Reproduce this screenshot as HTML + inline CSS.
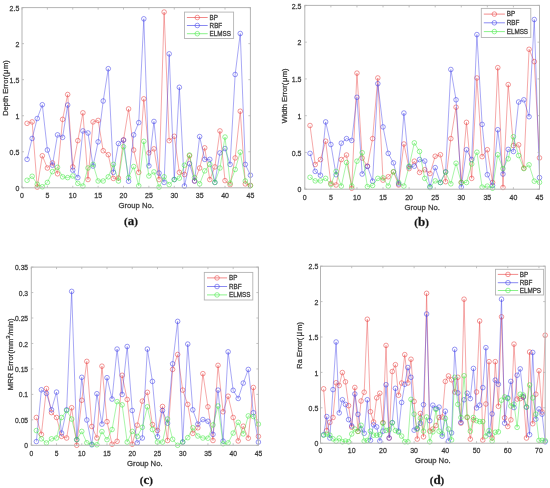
<!DOCTYPE html>
<html><head><meta charset="utf-8"><style>
html,body{margin:0;padding:0;background:#fff;}
body{width:550px;height:488px;overflow:hidden;}
svg text{stroke:#3c3c3c;stroke-width:0.28px;}
svg{display:block;filter:blur(0.35px);font-family:"Liberation Sans",Arial,sans-serif;font-size:7.6px;fill:#3c3c3c;}
</style></head><body>
<svg width="550" height="488" viewBox="0 0 550 488">
<rect width="550" height="488" fill="#fff"/>
<g><polyline points="27.08,123.33 32.15,121.89 37.23,187.12 42.30,155.76 47.38,168.02 52.45,162.97 57.53,173.78 62.60,119.36 67.68,94.50 72.76,166.94 77.83,140.63 82.91,112.80 87.98,179.55 93.06,121.89 98.13,120.44 103.21,150.72 108.28,154.68 113.36,178.40 118.44,178.11 123.51,139.91 128.59,108.91 133.66,150.00 138.74,172.34 143.81,98.82 148.89,152.88 153.96,148.84 159.04,179.55 164.12,12.04 169.19,140.63 174.27,136.30 179.34,172.34 184.42,174.50 189.49,155.76 194.57,180.99 199.64,168.02 204.72,147.84 209.80,179.55 214.87,166.94 219.95,130.90 225.02,180.63 230.10,184.60 235.17,157.93 240.25,111.22 245.32,183.88 250.40,185.32" fill="none" stroke="#e83a3a" stroke-width="0.8" stroke-opacity="0.55" stroke-linejoin="round"/>
<circle cx="27.08" cy="123.33" r="2.3" fill="none" stroke="#e83a3a" stroke-width="0.7" stroke-opacity="0.75"/>
<circle cx="32.15" cy="121.89" r="2.3" fill="none" stroke="#e83a3a" stroke-width="0.7" stroke-opacity="0.75"/>
<circle cx="37.23" cy="187.12" r="2.3" fill="none" stroke="#e83a3a" stroke-width="0.7" stroke-opacity="0.75"/>
<circle cx="42.30" cy="155.76" r="2.3" fill="none" stroke="#e83a3a" stroke-width="0.7" stroke-opacity="0.75"/>
<circle cx="47.38" cy="168.02" r="2.3" fill="none" stroke="#e83a3a" stroke-width="0.7" stroke-opacity="0.75"/>
<circle cx="52.45" cy="162.97" r="2.3" fill="none" stroke="#e83a3a" stroke-width="0.7" stroke-opacity="0.75"/>
<circle cx="57.53" cy="173.78" r="2.3" fill="none" stroke="#e83a3a" stroke-width="0.7" stroke-opacity="0.75"/>
<circle cx="62.60" cy="119.36" r="2.3" fill="none" stroke="#e83a3a" stroke-width="0.7" stroke-opacity="0.75"/>
<circle cx="67.68" cy="94.50" r="2.3" fill="none" stroke="#e83a3a" stroke-width="0.7" stroke-opacity="0.75"/>
<circle cx="72.76" cy="166.94" r="2.3" fill="none" stroke="#e83a3a" stroke-width="0.7" stroke-opacity="0.75"/>
<circle cx="77.83" cy="140.63" r="2.3" fill="none" stroke="#e83a3a" stroke-width="0.7" stroke-opacity="0.75"/>
<circle cx="82.91" cy="112.80" r="2.3" fill="none" stroke="#e83a3a" stroke-width="0.7" stroke-opacity="0.75"/>
<circle cx="87.98" cy="179.55" r="2.3" fill="none" stroke="#e83a3a" stroke-width="0.7" stroke-opacity="0.75"/>
<circle cx="93.06" cy="121.89" r="2.3" fill="none" stroke="#e83a3a" stroke-width="0.7" stroke-opacity="0.75"/>
<circle cx="98.13" cy="120.44" r="2.3" fill="none" stroke="#e83a3a" stroke-width="0.7" stroke-opacity="0.75"/>
<circle cx="103.21" cy="150.72" r="2.3" fill="none" stroke="#e83a3a" stroke-width="0.7" stroke-opacity="0.75"/>
<circle cx="108.28" cy="154.68" r="2.3" fill="none" stroke="#e83a3a" stroke-width="0.7" stroke-opacity="0.75"/>
<circle cx="113.36" cy="178.40" r="2.3" fill="none" stroke="#e83a3a" stroke-width="0.7" stroke-opacity="0.75"/>
<circle cx="118.44" cy="178.11" r="2.3" fill="none" stroke="#e83a3a" stroke-width="0.7" stroke-opacity="0.75"/>
<circle cx="123.51" cy="139.91" r="2.3" fill="none" stroke="#e83a3a" stroke-width="0.7" stroke-opacity="0.75"/>
<circle cx="128.59" cy="108.91" r="2.3" fill="none" stroke="#e83a3a" stroke-width="0.7" stroke-opacity="0.75"/>
<circle cx="133.66" cy="150.00" r="2.3" fill="none" stroke="#e83a3a" stroke-width="0.7" stroke-opacity="0.75"/>
<circle cx="138.74" cy="172.34" r="2.3" fill="none" stroke="#e83a3a" stroke-width="0.7" stroke-opacity="0.75"/>
<circle cx="143.81" cy="98.82" r="2.3" fill="none" stroke="#e83a3a" stroke-width="0.7" stroke-opacity="0.75"/>
<circle cx="148.89" cy="152.88" r="2.3" fill="none" stroke="#e83a3a" stroke-width="0.7" stroke-opacity="0.75"/>
<circle cx="153.96" cy="148.84" r="2.3" fill="none" stroke="#e83a3a" stroke-width="0.7" stroke-opacity="0.75"/>
<circle cx="159.04" cy="179.55" r="2.3" fill="none" stroke="#e83a3a" stroke-width="0.7" stroke-opacity="0.75"/>
<circle cx="164.12" cy="12.04" r="2.3" fill="none" stroke="#e83a3a" stroke-width="0.7" stroke-opacity="0.75"/>
<circle cx="169.19" cy="140.63" r="2.3" fill="none" stroke="#e83a3a" stroke-width="0.7" stroke-opacity="0.75"/>
<circle cx="174.27" cy="136.30" r="2.3" fill="none" stroke="#e83a3a" stroke-width="0.7" stroke-opacity="0.75"/>
<circle cx="179.34" cy="172.34" r="2.3" fill="none" stroke="#e83a3a" stroke-width="0.7" stroke-opacity="0.75"/>
<circle cx="184.42" cy="174.50" r="2.3" fill="none" stroke="#e83a3a" stroke-width="0.7" stroke-opacity="0.75"/>
<circle cx="189.49" cy="155.76" r="2.3" fill="none" stroke="#e83a3a" stroke-width="0.7" stroke-opacity="0.75"/>
<circle cx="194.57" cy="180.99" r="2.3" fill="none" stroke="#e83a3a" stroke-width="0.7" stroke-opacity="0.75"/>
<circle cx="199.64" cy="168.02" r="2.3" fill="none" stroke="#e83a3a" stroke-width="0.7" stroke-opacity="0.75"/>
<circle cx="204.72" cy="147.84" r="2.3" fill="none" stroke="#e83a3a" stroke-width="0.7" stroke-opacity="0.75"/>
<circle cx="209.80" cy="179.55" r="2.3" fill="none" stroke="#e83a3a" stroke-width="0.7" stroke-opacity="0.75"/>
<circle cx="214.87" cy="166.94" r="2.3" fill="none" stroke="#e83a3a" stroke-width="0.7" stroke-opacity="0.75"/>
<circle cx="219.95" cy="130.90" r="2.3" fill="none" stroke="#e83a3a" stroke-width="0.7" stroke-opacity="0.75"/>
<circle cx="225.02" cy="180.63" r="2.3" fill="none" stroke="#e83a3a" stroke-width="0.7" stroke-opacity="0.75"/>
<circle cx="230.10" cy="184.60" r="2.3" fill="none" stroke="#e83a3a" stroke-width="0.7" stroke-opacity="0.75"/>
<circle cx="235.17" cy="157.93" r="2.3" fill="none" stroke="#e83a3a" stroke-width="0.7" stroke-opacity="0.75"/>
<circle cx="240.25" cy="111.22" r="2.3" fill="none" stroke="#e83a3a" stroke-width="0.7" stroke-opacity="0.75"/>
<circle cx="245.32" cy="183.88" r="2.3" fill="none" stroke="#e83a3a" stroke-width="0.7" stroke-opacity="0.75"/>
<circle cx="250.40" cy="185.32" r="2.3" fill="none" stroke="#e83a3a" stroke-width="0.7" stroke-opacity="0.75"/>
<polyline points="27.08,159.37 32.15,138.46 37.23,118.50 42.30,104.73 47.38,150.00 52.45,165.13 57.53,134.86 62.60,137.38 67.68,105.02 72.76,170.18 77.83,177.60 82.91,130.90 87.98,132.99 93.06,166.07 98.13,141.85 103.21,100.98 108.28,68.69 113.36,172.34 118.44,143.51 123.51,140.12 128.59,181.21 133.66,134.86 138.74,122.61 143.81,18.81 148.89,165.86 153.96,121.45 159.04,173.06 164.12,182.43 169.19,53.84 174.27,179.55 179.34,87.29 184.42,186.04 189.49,163.69 194.57,180.99 199.64,136.59 204.72,159.37 209.80,159.37 214.87,182.43 219.95,152.88 225.02,148.56 230.10,164.41 235.17,74.46 240.25,33.52 245.32,164.41 250.40,175.23" fill="none" stroke="#3a3ae8" stroke-width="0.8" stroke-opacity="0.55" stroke-linejoin="round"/>
<circle cx="27.08" cy="159.37" r="2.3" fill="none" stroke="#3a3ae8" stroke-width="0.7" stroke-opacity="0.75"/>
<circle cx="32.15" cy="138.46" r="2.3" fill="none" stroke="#3a3ae8" stroke-width="0.7" stroke-opacity="0.75"/>
<circle cx="37.23" cy="118.50" r="2.3" fill="none" stroke="#3a3ae8" stroke-width="0.7" stroke-opacity="0.75"/>
<circle cx="42.30" cy="104.73" r="2.3" fill="none" stroke="#3a3ae8" stroke-width="0.7" stroke-opacity="0.75"/>
<circle cx="47.38" cy="150.00" r="2.3" fill="none" stroke="#3a3ae8" stroke-width="0.7" stroke-opacity="0.75"/>
<circle cx="52.45" cy="165.13" r="2.3" fill="none" stroke="#3a3ae8" stroke-width="0.7" stroke-opacity="0.75"/>
<circle cx="57.53" cy="134.86" r="2.3" fill="none" stroke="#3a3ae8" stroke-width="0.7" stroke-opacity="0.75"/>
<circle cx="62.60" cy="137.38" r="2.3" fill="none" stroke="#3a3ae8" stroke-width="0.7" stroke-opacity="0.75"/>
<circle cx="67.68" cy="105.02" r="2.3" fill="none" stroke="#3a3ae8" stroke-width="0.7" stroke-opacity="0.75"/>
<circle cx="72.76" cy="170.18" r="2.3" fill="none" stroke="#3a3ae8" stroke-width="0.7" stroke-opacity="0.75"/>
<circle cx="77.83" cy="177.60" r="2.3" fill="none" stroke="#3a3ae8" stroke-width="0.7" stroke-opacity="0.75"/>
<circle cx="82.91" cy="130.90" r="2.3" fill="none" stroke="#3a3ae8" stroke-width="0.7" stroke-opacity="0.75"/>
<circle cx="87.98" cy="132.99" r="2.3" fill="none" stroke="#3a3ae8" stroke-width="0.7" stroke-opacity="0.75"/>
<circle cx="93.06" cy="166.07" r="2.3" fill="none" stroke="#3a3ae8" stroke-width="0.7" stroke-opacity="0.75"/>
<circle cx="98.13" cy="141.85" r="2.3" fill="none" stroke="#3a3ae8" stroke-width="0.7" stroke-opacity="0.75"/>
<circle cx="103.21" cy="100.98" r="2.3" fill="none" stroke="#3a3ae8" stroke-width="0.7" stroke-opacity="0.75"/>
<circle cx="108.28" cy="68.69" r="2.3" fill="none" stroke="#3a3ae8" stroke-width="0.7" stroke-opacity="0.75"/>
<circle cx="113.36" cy="172.34" r="2.3" fill="none" stroke="#3a3ae8" stroke-width="0.7" stroke-opacity="0.75"/>
<circle cx="118.44" cy="143.51" r="2.3" fill="none" stroke="#3a3ae8" stroke-width="0.7" stroke-opacity="0.75"/>
<circle cx="123.51" cy="140.12" r="2.3" fill="none" stroke="#3a3ae8" stroke-width="0.7" stroke-opacity="0.75"/>
<circle cx="128.59" cy="181.21" r="2.3" fill="none" stroke="#3a3ae8" stroke-width="0.7" stroke-opacity="0.75"/>
<circle cx="133.66" cy="134.86" r="2.3" fill="none" stroke="#3a3ae8" stroke-width="0.7" stroke-opacity="0.75"/>
<circle cx="138.74" cy="122.61" r="2.3" fill="none" stroke="#3a3ae8" stroke-width="0.7" stroke-opacity="0.75"/>
<circle cx="143.81" cy="18.81" r="2.3" fill="none" stroke="#3a3ae8" stroke-width="0.7" stroke-opacity="0.75"/>
<circle cx="148.89" cy="165.86" r="2.3" fill="none" stroke="#3a3ae8" stroke-width="0.7" stroke-opacity="0.75"/>
<circle cx="153.96" cy="121.45" r="2.3" fill="none" stroke="#3a3ae8" stroke-width="0.7" stroke-opacity="0.75"/>
<circle cx="159.04" cy="173.06" r="2.3" fill="none" stroke="#3a3ae8" stroke-width="0.7" stroke-opacity="0.75"/>
<circle cx="164.12" cy="182.43" r="2.3" fill="none" stroke="#3a3ae8" stroke-width="0.7" stroke-opacity="0.75"/>
<circle cx="169.19" cy="53.84" r="2.3" fill="none" stroke="#3a3ae8" stroke-width="0.7" stroke-opacity="0.75"/>
<circle cx="174.27" cy="179.55" r="2.3" fill="none" stroke="#3a3ae8" stroke-width="0.7" stroke-opacity="0.75"/>
<circle cx="179.34" cy="87.29" r="2.3" fill="none" stroke="#3a3ae8" stroke-width="0.7" stroke-opacity="0.75"/>
<circle cx="184.42" cy="186.04" r="2.3" fill="none" stroke="#3a3ae8" stroke-width="0.7" stroke-opacity="0.75"/>
<circle cx="189.49" cy="163.69" r="2.3" fill="none" stroke="#3a3ae8" stroke-width="0.7" stroke-opacity="0.75"/>
<circle cx="194.57" cy="180.99" r="2.3" fill="none" stroke="#3a3ae8" stroke-width="0.7" stroke-opacity="0.75"/>
<circle cx="199.64" cy="136.59" r="2.3" fill="none" stroke="#3a3ae8" stroke-width="0.7" stroke-opacity="0.75"/>
<circle cx="204.72" cy="159.37" r="2.3" fill="none" stroke="#3a3ae8" stroke-width="0.7" stroke-opacity="0.75"/>
<circle cx="209.80" cy="159.37" r="2.3" fill="none" stroke="#3a3ae8" stroke-width="0.7" stroke-opacity="0.75"/>
<circle cx="214.87" cy="182.43" r="2.3" fill="none" stroke="#3a3ae8" stroke-width="0.7" stroke-opacity="0.75"/>
<circle cx="219.95" cy="152.88" r="2.3" fill="none" stroke="#3a3ae8" stroke-width="0.7" stroke-opacity="0.75"/>
<circle cx="225.02" cy="148.56" r="2.3" fill="none" stroke="#3a3ae8" stroke-width="0.7" stroke-opacity="0.75"/>
<circle cx="230.10" cy="164.41" r="2.3" fill="none" stroke="#3a3ae8" stroke-width="0.7" stroke-opacity="0.75"/>
<circle cx="235.17" cy="74.46" r="2.3" fill="none" stroke="#3a3ae8" stroke-width="0.7" stroke-opacity="0.75"/>
<circle cx="240.25" cy="33.52" r="2.3" fill="none" stroke="#3a3ae8" stroke-width="0.7" stroke-opacity="0.75"/>
<circle cx="245.32" cy="164.41" r="2.3" fill="none" stroke="#3a3ae8" stroke-width="0.7" stroke-opacity="0.75"/>
<circle cx="250.40" cy="175.23" r="2.3" fill="none" stroke="#3a3ae8" stroke-width="0.7" stroke-opacity="0.75"/>
<polyline points="27.08,180.27 32.15,176.31 37.23,184.24 42.30,186.76 47.38,182.43 52.45,171.62 57.53,167.30 62.60,176.81 67.68,177.60 72.76,175.95 77.83,183.37 82.91,186.04 87.98,168.02 93.06,164.41 98.13,180.99 103.21,180.99 108.28,176.81 113.36,164.41 118.44,180.99 123.51,146.75 128.59,177.60 133.66,166.58 138.74,185.82 143.81,141.35 148.89,175.95 153.96,171.91 159.04,187.12 164.12,176.81 169.19,184.60 174.27,179.55 179.34,178.11 184.42,165.28 189.49,155.04 194.57,177.60 199.64,183.88 204.72,170.90 209.80,164.41 214.87,182.43 219.95,168.02 225.02,137.02 230.10,183.15 235.17,169.46 240.25,152.16 245.32,180.99 250.40,185.68" fill="none" stroke="#3ae83a" stroke-width="0.8" stroke-opacity="0.55" stroke-linejoin="round"/>
<circle cx="27.08" cy="180.27" r="2.3" fill="none" stroke="#3ae83a" stroke-width="0.7" stroke-opacity="0.75"/>
<circle cx="32.15" cy="176.31" r="2.3" fill="none" stroke="#3ae83a" stroke-width="0.7" stroke-opacity="0.75"/>
<circle cx="37.23" cy="184.24" r="2.3" fill="none" stroke="#3ae83a" stroke-width="0.7" stroke-opacity="0.75"/>
<circle cx="42.30" cy="186.76" r="2.3" fill="none" stroke="#3ae83a" stroke-width="0.7" stroke-opacity="0.75"/>
<circle cx="47.38" cy="182.43" r="2.3" fill="none" stroke="#3ae83a" stroke-width="0.7" stroke-opacity="0.75"/>
<circle cx="52.45" cy="171.62" r="2.3" fill="none" stroke="#3ae83a" stroke-width="0.7" stroke-opacity="0.75"/>
<circle cx="57.53" cy="167.30" r="2.3" fill="none" stroke="#3ae83a" stroke-width="0.7" stroke-opacity="0.75"/>
<circle cx="62.60" cy="176.81" r="2.3" fill="none" stroke="#3ae83a" stroke-width="0.7" stroke-opacity="0.75"/>
<circle cx="67.68" cy="177.60" r="2.3" fill="none" stroke="#3ae83a" stroke-width="0.7" stroke-opacity="0.75"/>
<circle cx="72.76" cy="175.95" r="2.3" fill="none" stroke="#3ae83a" stroke-width="0.7" stroke-opacity="0.75"/>
<circle cx="77.83" cy="183.37" r="2.3" fill="none" stroke="#3ae83a" stroke-width="0.7" stroke-opacity="0.75"/>
<circle cx="82.91" cy="186.04" r="2.3" fill="none" stroke="#3ae83a" stroke-width="0.7" stroke-opacity="0.75"/>
<circle cx="87.98" cy="168.02" r="2.3" fill="none" stroke="#3ae83a" stroke-width="0.7" stroke-opacity="0.75"/>
<circle cx="93.06" cy="164.41" r="2.3" fill="none" stroke="#3ae83a" stroke-width="0.7" stroke-opacity="0.75"/>
<circle cx="98.13" cy="180.99" r="2.3" fill="none" stroke="#3ae83a" stroke-width="0.7" stroke-opacity="0.75"/>
<circle cx="103.21" cy="180.99" r="2.3" fill="none" stroke="#3ae83a" stroke-width="0.7" stroke-opacity="0.75"/>
<circle cx="108.28" cy="176.81" r="2.3" fill="none" stroke="#3ae83a" stroke-width="0.7" stroke-opacity="0.75"/>
<circle cx="113.36" cy="164.41" r="2.3" fill="none" stroke="#3ae83a" stroke-width="0.7" stroke-opacity="0.75"/>
<circle cx="118.44" cy="180.99" r="2.3" fill="none" stroke="#3ae83a" stroke-width="0.7" stroke-opacity="0.75"/>
<circle cx="123.51" cy="146.75" r="2.3" fill="none" stroke="#3ae83a" stroke-width="0.7" stroke-opacity="0.75"/>
<circle cx="128.59" cy="177.60" r="2.3" fill="none" stroke="#3ae83a" stroke-width="0.7" stroke-opacity="0.75"/>
<circle cx="133.66" cy="166.58" r="2.3" fill="none" stroke="#3ae83a" stroke-width="0.7" stroke-opacity="0.75"/>
<circle cx="138.74" cy="185.82" r="2.3" fill="none" stroke="#3ae83a" stroke-width="0.7" stroke-opacity="0.75"/>
<circle cx="143.81" cy="141.35" r="2.3" fill="none" stroke="#3ae83a" stroke-width="0.7" stroke-opacity="0.75"/>
<circle cx="148.89" cy="175.95" r="2.3" fill="none" stroke="#3ae83a" stroke-width="0.7" stroke-opacity="0.75"/>
<circle cx="153.96" cy="171.91" r="2.3" fill="none" stroke="#3ae83a" stroke-width="0.7" stroke-opacity="0.75"/>
<circle cx="159.04" cy="187.12" r="2.3" fill="none" stroke="#3ae83a" stroke-width="0.7" stroke-opacity="0.75"/>
<circle cx="164.12" cy="176.81" r="2.3" fill="none" stroke="#3ae83a" stroke-width="0.7" stroke-opacity="0.75"/>
<circle cx="169.19" cy="184.60" r="2.3" fill="none" stroke="#3ae83a" stroke-width="0.7" stroke-opacity="0.75"/>
<circle cx="174.27" cy="179.55" r="2.3" fill="none" stroke="#3ae83a" stroke-width="0.7" stroke-opacity="0.75"/>
<circle cx="179.34" cy="178.11" r="2.3" fill="none" stroke="#3ae83a" stroke-width="0.7" stroke-opacity="0.75"/>
<circle cx="184.42" cy="165.28" r="2.3" fill="none" stroke="#3ae83a" stroke-width="0.7" stroke-opacity="0.75"/>
<circle cx="189.49" cy="155.04" r="2.3" fill="none" stroke="#3ae83a" stroke-width="0.7" stroke-opacity="0.75"/>
<circle cx="194.57" cy="177.60" r="2.3" fill="none" stroke="#3ae83a" stroke-width="0.7" stroke-opacity="0.75"/>
<circle cx="199.64" cy="183.88" r="2.3" fill="none" stroke="#3ae83a" stroke-width="0.7" stroke-opacity="0.75"/>
<circle cx="204.72" cy="170.90" r="2.3" fill="none" stroke="#3ae83a" stroke-width="0.7" stroke-opacity="0.75"/>
<circle cx="209.80" cy="164.41" r="2.3" fill="none" stroke="#3ae83a" stroke-width="0.7" stroke-opacity="0.75"/>
<circle cx="214.87" cy="182.43" r="2.3" fill="none" stroke="#3ae83a" stroke-width="0.7" stroke-opacity="0.75"/>
<circle cx="219.95" cy="168.02" r="2.3" fill="none" stroke="#3ae83a" stroke-width="0.7" stroke-opacity="0.75"/>
<circle cx="225.02" cy="137.02" r="2.3" fill="none" stroke="#3ae83a" stroke-width="0.7" stroke-opacity="0.75"/>
<circle cx="230.10" cy="183.15" r="2.3" fill="none" stroke="#3ae83a" stroke-width="0.7" stroke-opacity="0.75"/>
<circle cx="235.17" cy="169.46" r="2.3" fill="none" stroke="#3ae83a" stroke-width="0.7" stroke-opacity="0.75"/>
<circle cx="240.25" cy="152.16" r="2.3" fill="none" stroke="#3ae83a" stroke-width="0.7" stroke-opacity="0.75"/>
<circle cx="245.32" cy="180.99" r="2.3" fill="none" stroke="#3ae83a" stroke-width="0.7" stroke-opacity="0.75"/>
<circle cx="250.40" cy="185.68" r="2.3" fill="none" stroke="#3ae83a" stroke-width="0.7" stroke-opacity="0.75"/>
<rect x="22.00" y="7.60" width="228.40" height="180.20" fill="none" stroke="#b4b4b4" stroke-width="1"/>
<line x1="22.00" y1="187.8" x2="22.00" y2="185.8" stroke="#b4b4b4" stroke-width="0.8"/>
<line x1="22.00" y1="7.6" x2="22.00" y2="9.6" stroke="#b4b4b4" stroke-width="0.8"/>
<text transform="translate(22.00,197.70) scale(0.92,1)" text-anchor="middle">0</text>
<line x1="47.38" y1="187.8" x2="47.38" y2="185.8" stroke="#b4b4b4" stroke-width="0.8"/>
<line x1="47.38" y1="7.6" x2="47.38" y2="9.6" stroke="#b4b4b4" stroke-width="0.8"/>
<text transform="translate(47.38,197.70) scale(0.92,1)" text-anchor="middle">5</text>
<line x1="72.76" y1="187.8" x2="72.76" y2="185.8" stroke="#b4b4b4" stroke-width="0.8"/>
<line x1="72.76" y1="7.6" x2="72.76" y2="9.6" stroke="#b4b4b4" stroke-width="0.8"/>
<text transform="translate(72.76,197.70) scale(0.92,1)" text-anchor="middle">10</text>
<line x1="98.13" y1="187.8" x2="98.13" y2="185.8" stroke="#b4b4b4" stroke-width="0.8"/>
<line x1="98.13" y1="7.6" x2="98.13" y2="9.6" stroke="#b4b4b4" stroke-width="0.8"/>
<text transform="translate(98.13,197.70) scale(0.92,1)" text-anchor="middle">15</text>
<line x1="123.51" y1="187.8" x2="123.51" y2="185.8" stroke="#b4b4b4" stroke-width="0.8"/>
<line x1="123.51" y1="7.6" x2="123.51" y2="9.6" stroke="#b4b4b4" stroke-width="0.8"/>
<text transform="translate(123.51,197.70) scale(0.92,1)" text-anchor="middle">20</text>
<line x1="148.89" y1="187.8" x2="148.89" y2="185.8" stroke="#b4b4b4" stroke-width="0.8"/>
<line x1="148.89" y1="7.6" x2="148.89" y2="9.6" stroke="#b4b4b4" stroke-width="0.8"/>
<text transform="translate(148.89,197.70) scale(0.92,1)" text-anchor="middle">25</text>
<line x1="174.27" y1="187.8" x2="174.27" y2="185.8" stroke="#b4b4b4" stroke-width="0.8"/>
<line x1="174.27" y1="7.6" x2="174.27" y2="9.6" stroke="#b4b4b4" stroke-width="0.8"/>
<text transform="translate(174.27,197.70) scale(0.92,1)" text-anchor="middle">30</text>
<line x1="199.64" y1="187.8" x2="199.64" y2="185.8" stroke="#b4b4b4" stroke-width="0.8"/>
<line x1="199.64" y1="7.6" x2="199.64" y2="9.6" stroke="#b4b4b4" stroke-width="0.8"/>
<text transform="translate(199.64,197.70) scale(0.92,1)" text-anchor="middle">35</text>
<line x1="225.02" y1="187.8" x2="225.02" y2="185.8" stroke="#b4b4b4" stroke-width="0.8"/>
<line x1="225.02" y1="7.6" x2="225.02" y2="9.6" stroke="#b4b4b4" stroke-width="0.8"/>
<text transform="translate(225.02,197.70) scale(0.92,1)" text-anchor="middle">40</text>
<line x1="250.40" y1="187.8" x2="250.40" y2="185.8" stroke="#b4b4b4" stroke-width="0.8"/>
<line x1="250.40" y1="7.6" x2="250.40" y2="9.6" stroke="#b4b4b4" stroke-width="0.8"/>
<text transform="translate(250.40,197.70) scale(0.92,1)" text-anchor="middle">45</text>
<line x1="22.0" y1="187.80" x2="24.0" y2="187.80" stroke="#b4b4b4" stroke-width="0.8"/>
<line x1="250.4" y1="187.80" x2="248.4" y2="187.80" stroke="#b4b4b4" stroke-width="0.8"/>
<text transform="translate(19.30,190.90) scale(0.92,1)" text-anchor="end">0</text>
<line x1="22.0" y1="151.76" x2="24.0" y2="151.76" stroke="#b4b4b4" stroke-width="0.8"/>
<line x1="250.4" y1="151.76" x2="248.4" y2="151.76" stroke="#b4b4b4" stroke-width="0.8"/>
<text transform="translate(19.30,154.86) scale(0.92,1)" text-anchor="end">0.5</text>
<line x1="22.0" y1="115.72" x2="24.0" y2="115.72" stroke="#b4b4b4" stroke-width="0.8"/>
<line x1="250.4" y1="115.72" x2="248.4" y2="115.72" stroke="#b4b4b4" stroke-width="0.8"/>
<text transform="translate(19.30,118.82) scale(0.92,1)" text-anchor="end">1</text>
<line x1="22.0" y1="79.68" x2="24.0" y2="79.68" stroke="#b4b4b4" stroke-width="0.8"/>
<line x1="250.4" y1="79.68" x2="248.4" y2="79.68" stroke="#b4b4b4" stroke-width="0.8"/>
<text transform="translate(19.30,82.78) scale(0.92,1)" text-anchor="end">1.5</text>
<line x1="22.0" y1="43.64" x2="24.0" y2="43.64" stroke="#b4b4b4" stroke-width="0.8"/>
<line x1="250.4" y1="43.64" x2="248.4" y2="43.64" stroke="#b4b4b4" stroke-width="0.8"/>
<text transform="translate(19.30,46.74) scale(0.92,1)" text-anchor="end">2</text>
<line x1="22.0" y1="7.60" x2="24.0" y2="7.60" stroke="#b4b4b4" stroke-width="0.8"/>
<line x1="250.4" y1="7.60" x2="248.4" y2="7.60" stroke="#b4b4b4" stroke-width="0.8"/>
<text transform="translate(19.30,10.70) scale(0.92,1)" text-anchor="end">2.5</text>
<text x="136.20" y="208.1" text-anchor="middle" font-size="7.7">Group No.</text>
<text transform="translate(7.800000000000001,88.1) rotate(-90)" text-anchor="middle" font-size="7.5">Depth Error(<tspan dx="0.7">μ</tspan><tspan dx="0.5">m)</tspan></text>
<text x="131" y="225" text-anchor="middle" font-family="Liberation Serif, serif" font-weight="bold" font-size="13" fill="#111"><tspan font-size="11">(</tspan>a<tspan font-size="11">)</tspan></text>
<rect x="184.5" y="12.1" width="49.10" height="26.40" fill="#fff" stroke="#b4b4b4" stroke-width="0.9"/>
<line x1="186.9" y1="17.5" x2="207.7" y2="17.5" stroke="#e83a3a" stroke-width="0.8" stroke-opacity="0.75"/>
<circle cx="197.30" cy="17.5" r="2.3" fill="none" stroke="#e83a3a" stroke-width="0.7" stroke-opacity="0.75"/>
<text x="209.6" y="19.8" font-size="6.3">BP</text>
<line x1="186.9" y1="25.5" x2="207.7" y2="25.5" stroke="#3a3ae8" stroke-width="0.8" stroke-opacity="0.75"/>
<circle cx="197.30" cy="25.5" r="2.3" fill="none" stroke="#3a3ae8" stroke-width="0.7" stroke-opacity="0.75"/>
<text x="209.6" y="27.8" font-size="6.3">RBF</text>
<line x1="186.9" y1="33.7" x2="207.7" y2="33.7" stroke="#3ae83a" stroke-width="0.8" stroke-opacity="0.75"/>
<circle cx="197.30" cy="33.7" r="2.3" fill="none" stroke="#3ae83a" stroke-width="0.7" stroke-opacity="0.75"/>
<text x="209.6" y="36.0" font-size="6.3">ELMSS</text></g>
<g><polyline points="310.02,125.52 315.23,164.48 320.45,159.56 325.66,141.18 330.88,183.38 336.09,184.99 341.31,159.56 346.52,155.00 351.74,188.23 356.96,73.10 362.17,158.09 367.39,166.17 372.60,138.60 377.82,77.95 383.03,180.14 388.25,176.76 393.46,171.91 398.68,184.99 403.90,143.97 409.11,168.60 414.33,161.17 419.54,172.42 424.76,169.70 429.97,173.53 435.19,156.25 440.40,154.70 445.62,181.69 450.84,138.60 456.05,107.21 461.27,182.50 466.48,122.36 471.70,178.38 476.91,77.95 482.13,156.62 487.34,149.71 492.56,182.50 497.78,67.66 502.99,187.49 508.21,84.57 513.42,145.59 518.64,144.85 523.85,168.09 529.07,49.28 534.28,61.63 539.50,157.87" fill="none" stroke="#e83a3a" stroke-width="0.8" stroke-opacity="0.55" stroke-linejoin="round"/>
<circle cx="310.02" cy="125.52" r="2.3" fill="none" stroke="#e83a3a" stroke-width="0.7" stroke-opacity="0.75"/>
<circle cx="315.23" cy="164.48" r="2.3" fill="none" stroke="#e83a3a" stroke-width="0.7" stroke-opacity="0.75"/>
<circle cx="320.45" cy="159.56" r="2.3" fill="none" stroke="#e83a3a" stroke-width="0.7" stroke-opacity="0.75"/>
<circle cx="325.66" cy="141.18" r="2.3" fill="none" stroke="#e83a3a" stroke-width="0.7" stroke-opacity="0.75"/>
<circle cx="330.88" cy="183.38" r="2.3" fill="none" stroke="#e83a3a" stroke-width="0.7" stroke-opacity="0.75"/>
<circle cx="336.09" cy="184.99" r="2.3" fill="none" stroke="#e83a3a" stroke-width="0.7" stroke-opacity="0.75"/>
<circle cx="341.31" cy="159.56" r="2.3" fill="none" stroke="#e83a3a" stroke-width="0.7" stroke-opacity="0.75"/>
<circle cx="346.52" cy="155.00" r="2.3" fill="none" stroke="#e83a3a" stroke-width="0.7" stroke-opacity="0.75"/>
<circle cx="351.74" cy="188.23" r="2.3" fill="none" stroke="#e83a3a" stroke-width="0.7" stroke-opacity="0.75"/>
<circle cx="356.96" cy="73.10" r="2.3" fill="none" stroke="#e83a3a" stroke-width="0.7" stroke-opacity="0.75"/>
<circle cx="362.17" cy="158.09" r="2.3" fill="none" stroke="#e83a3a" stroke-width="0.7" stroke-opacity="0.75"/>
<circle cx="367.39" cy="166.17" r="2.3" fill="none" stroke="#e83a3a" stroke-width="0.7" stroke-opacity="0.75"/>
<circle cx="372.60" cy="138.60" r="2.3" fill="none" stroke="#e83a3a" stroke-width="0.7" stroke-opacity="0.75"/>
<circle cx="377.82" cy="77.95" r="2.3" fill="none" stroke="#e83a3a" stroke-width="0.7" stroke-opacity="0.75"/>
<circle cx="383.03" cy="180.14" r="2.3" fill="none" stroke="#e83a3a" stroke-width="0.7" stroke-opacity="0.75"/>
<circle cx="388.25" cy="176.76" r="2.3" fill="none" stroke="#e83a3a" stroke-width="0.7" stroke-opacity="0.75"/>
<circle cx="393.46" cy="171.91" r="2.3" fill="none" stroke="#e83a3a" stroke-width="0.7" stroke-opacity="0.75"/>
<circle cx="398.68" cy="184.99" r="2.3" fill="none" stroke="#e83a3a" stroke-width="0.7" stroke-opacity="0.75"/>
<circle cx="403.90" cy="143.97" r="2.3" fill="none" stroke="#e83a3a" stroke-width="0.7" stroke-opacity="0.75"/>
<circle cx="409.11" cy="168.60" r="2.3" fill="none" stroke="#e83a3a" stroke-width="0.7" stroke-opacity="0.75"/>
<circle cx="414.33" cy="161.17" r="2.3" fill="none" stroke="#e83a3a" stroke-width="0.7" stroke-opacity="0.75"/>
<circle cx="419.54" cy="172.42" r="2.3" fill="none" stroke="#e83a3a" stroke-width="0.7" stroke-opacity="0.75"/>
<circle cx="424.76" cy="169.70" r="2.3" fill="none" stroke="#e83a3a" stroke-width="0.7" stroke-opacity="0.75"/>
<circle cx="429.97" cy="173.53" r="2.3" fill="none" stroke="#e83a3a" stroke-width="0.7" stroke-opacity="0.75"/>
<circle cx="435.19" cy="156.25" r="2.3" fill="none" stroke="#e83a3a" stroke-width="0.7" stroke-opacity="0.75"/>
<circle cx="440.40" cy="154.70" r="2.3" fill="none" stroke="#e83a3a" stroke-width="0.7" stroke-opacity="0.75"/>
<circle cx="445.62" cy="181.69" r="2.3" fill="none" stroke="#e83a3a" stroke-width="0.7" stroke-opacity="0.75"/>
<circle cx="450.84" cy="138.60" r="2.3" fill="none" stroke="#e83a3a" stroke-width="0.7" stroke-opacity="0.75"/>
<circle cx="456.05" cy="107.21" r="2.3" fill="none" stroke="#e83a3a" stroke-width="0.7" stroke-opacity="0.75"/>
<circle cx="461.27" cy="182.50" r="2.3" fill="none" stroke="#e83a3a" stroke-width="0.7" stroke-opacity="0.75"/>
<circle cx="466.48" cy="122.36" r="2.3" fill="none" stroke="#e83a3a" stroke-width="0.7" stroke-opacity="0.75"/>
<circle cx="471.70" cy="178.38" r="2.3" fill="none" stroke="#e83a3a" stroke-width="0.7" stroke-opacity="0.75"/>
<circle cx="476.91" cy="77.95" r="2.3" fill="none" stroke="#e83a3a" stroke-width="0.7" stroke-opacity="0.75"/>
<circle cx="482.13" cy="156.62" r="2.3" fill="none" stroke="#e83a3a" stroke-width="0.7" stroke-opacity="0.75"/>
<circle cx="487.34" cy="149.71" r="2.3" fill="none" stroke="#e83a3a" stroke-width="0.7" stroke-opacity="0.75"/>
<circle cx="492.56" cy="182.50" r="2.3" fill="none" stroke="#e83a3a" stroke-width="0.7" stroke-opacity="0.75"/>
<circle cx="497.78" cy="67.66" r="2.3" fill="none" stroke="#e83a3a" stroke-width="0.7" stroke-opacity="0.75"/>
<circle cx="502.99" cy="187.49" r="2.3" fill="none" stroke="#e83a3a" stroke-width="0.7" stroke-opacity="0.75"/>
<circle cx="508.21" cy="84.57" r="2.3" fill="none" stroke="#e83a3a" stroke-width="0.7" stroke-opacity="0.75"/>
<circle cx="513.42" cy="145.59" r="2.3" fill="none" stroke="#e83a3a" stroke-width="0.7" stroke-opacity="0.75"/>
<circle cx="518.64" cy="144.85" r="2.3" fill="none" stroke="#e83a3a" stroke-width="0.7" stroke-opacity="0.75"/>
<circle cx="523.85" cy="168.09" r="2.3" fill="none" stroke="#e83a3a" stroke-width="0.7" stroke-opacity="0.75"/>
<circle cx="529.07" cy="49.28" r="2.3" fill="none" stroke="#e83a3a" stroke-width="0.7" stroke-opacity="0.75"/>
<circle cx="534.28" cy="61.63" r="2.3" fill="none" stroke="#e83a3a" stroke-width="0.7" stroke-opacity="0.75"/>
<circle cx="539.50" cy="157.87" r="2.3" fill="none" stroke="#e83a3a" stroke-width="0.7" stroke-opacity="0.75"/>
<polyline points="310.02,153.38 315.23,171.39 320.45,175.22 325.66,121.91 330.88,144.49 336.09,174.70 341.31,143.16 346.52,138.60 351.74,140.44 356.96,97.29 362.17,174.04 367.39,166.47 372.60,181.17 377.82,83.68 383.03,126.91 388.25,153.38 393.46,162.87 398.68,183.82 403.90,113.02 409.11,166.91 414.33,166.17 419.54,159.56 424.76,161.03 429.97,186.61 435.19,167.64 440.40,182.50 445.62,171.91 450.84,69.49 456.05,99.79 461.27,187.13 466.48,149.71 471.70,159.56 476.91,34.57 482.13,124.41 487.34,174.70 492.56,185.51 497.78,129.71 502.99,174.04 508.21,149.41 513.42,151.47 518.64,101.99 523.85,99.79 529.07,116.69 534.28,19.50 539.50,177.57" fill="none" stroke="#3a3ae8" stroke-width="0.8" stroke-opacity="0.55" stroke-linejoin="round"/>
<circle cx="310.02" cy="153.38" r="2.3" fill="none" stroke="#3a3ae8" stroke-width="0.7" stroke-opacity="0.75"/>
<circle cx="315.23" cy="171.39" r="2.3" fill="none" stroke="#3a3ae8" stroke-width="0.7" stroke-opacity="0.75"/>
<circle cx="320.45" cy="175.22" r="2.3" fill="none" stroke="#3a3ae8" stroke-width="0.7" stroke-opacity="0.75"/>
<circle cx="325.66" cy="121.91" r="2.3" fill="none" stroke="#3a3ae8" stroke-width="0.7" stroke-opacity="0.75"/>
<circle cx="330.88" cy="144.49" r="2.3" fill="none" stroke="#3a3ae8" stroke-width="0.7" stroke-opacity="0.75"/>
<circle cx="336.09" cy="174.70" r="2.3" fill="none" stroke="#3a3ae8" stroke-width="0.7" stroke-opacity="0.75"/>
<circle cx="341.31" cy="143.16" r="2.3" fill="none" stroke="#3a3ae8" stroke-width="0.7" stroke-opacity="0.75"/>
<circle cx="346.52" cy="138.60" r="2.3" fill="none" stroke="#3a3ae8" stroke-width="0.7" stroke-opacity="0.75"/>
<circle cx="351.74" cy="140.44" r="2.3" fill="none" stroke="#3a3ae8" stroke-width="0.7" stroke-opacity="0.75"/>
<circle cx="356.96" cy="97.29" r="2.3" fill="none" stroke="#3a3ae8" stroke-width="0.7" stroke-opacity="0.75"/>
<circle cx="362.17" cy="174.04" r="2.3" fill="none" stroke="#3a3ae8" stroke-width="0.7" stroke-opacity="0.75"/>
<circle cx="367.39" cy="166.47" r="2.3" fill="none" stroke="#3a3ae8" stroke-width="0.7" stroke-opacity="0.75"/>
<circle cx="372.60" cy="181.17" r="2.3" fill="none" stroke="#3a3ae8" stroke-width="0.7" stroke-opacity="0.75"/>
<circle cx="377.82" cy="83.68" r="2.3" fill="none" stroke="#3a3ae8" stroke-width="0.7" stroke-opacity="0.75"/>
<circle cx="383.03" cy="126.91" r="2.3" fill="none" stroke="#3a3ae8" stroke-width="0.7" stroke-opacity="0.75"/>
<circle cx="388.25" cy="153.38" r="2.3" fill="none" stroke="#3a3ae8" stroke-width="0.7" stroke-opacity="0.75"/>
<circle cx="393.46" cy="162.87" r="2.3" fill="none" stroke="#3a3ae8" stroke-width="0.7" stroke-opacity="0.75"/>
<circle cx="398.68" cy="183.82" r="2.3" fill="none" stroke="#3a3ae8" stroke-width="0.7" stroke-opacity="0.75"/>
<circle cx="403.90" cy="113.02" r="2.3" fill="none" stroke="#3a3ae8" stroke-width="0.7" stroke-opacity="0.75"/>
<circle cx="409.11" cy="166.91" r="2.3" fill="none" stroke="#3a3ae8" stroke-width="0.7" stroke-opacity="0.75"/>
<circle cx="414.33" cy="166.17" r="2.3" fill="none" stroke="#3a3ae8" stroke-width="0.7" stroke-opacity="0.75"/>
<circle cx="419.54" cy="159.56" r="2.3" fill="none" stroke="#3a3ae8" stroke-width="0.7" stroke-opacity="0.75"/>
<circle cx="424.76" cy="161.03" r="2.3" fill="none" stroke="#3a3ae8" stroke-width="0.7" stroke-opacity="0.75"/>
<circle cx="429.97" cy="186.61" r="2.3" fill="none" stroke="#3a3ae8" stroke-width="0.7" stroke-opacity="0.75"/>
<circle cx="435.19" cy="167.64" r="2.3" fill="none" stroke="#3a3ae8" stroke-width="0.7" stroke-opacity="0.75"/>
<circle cx="440.40" cy="182.50" r="2.3" fill="none" stroke="#3a3ae8" stroke-width="0.7" stroke-opacity="0.75"/>
<circle cx="445.62" cy="171.91" r="2.3" fill="none" stroke="#3a3ae8" stroke-width="0.7" stroke-opacity="0.75"/>
<circle cx="450.84" cy="69.49" r="2.3" fill="none" stroke="#3a3ae8" stroke-width="0.7" stroke-opacity="0.75"/>
<circle cx="456.05" cy="99.79" r="2.3" fill="none" stroke="#3a3ae8" stroke-width="0.7" stroke-opacity="0.75"/>
<circle cx="461.27" cy="187.13" r="2.3" fill="none" stroke="#3a3ae8" stroke-width="0.7" stroke-opacity="0.75"/>
<circle cx="466.48" cy="149.71" r="2.3" fill="none" stroke="#3a3ae8" stroke-width="0.7" stroke-opacity="0.75"/>
<circle cx="471.70" cy="159.56" r="2.3" fill="none" stroke="#3a3ae8" stroke-width="0.7" stroke-opacity="0.75"/>
<circle cx="476.91" cy="34.57" r="2.3" fill="none" stroke="#3a3ae8" stroke-width="0.7" stroke-opacity="0.75"/>
<circle cx="482.13" cy="124.41" r="2.3" fill="none" stroke="#3a3ae8" stroke-width="0.7" stroke-opacity="0.75"/>
<circle cx="487.34" cy="174.70" r="2.3" fill="none" stroke="#3a3ae8" stroke-width="0.7" stroke-opacity="0.75"/>
<circle cx="492.56" cy="185.51" r="2.3" fill="none" stroke="#3a3ae8" stroke-width="0.7" stroke-opacity="0.75"/>
<circle cx="497.78" cy="129.71" r="2.3" fill="none" stroke="#3a3ae8" stroke-width="0.7" stroke-opacity="0.75"/>
<circle cx="502.99" cy="174.04" r="2.3" fill="none" stroke="#3a3ae8" stroke-width="0.7" stroke-opacity="0.75"/>
<circle cx="508.21" cy="149.41" r="2.3" fill="none" stroke="#3a3ae8" stroke-width="0.7" stroke-opacity="0.75"/>
<circle cx="513.42" cy="151.47" r="2.3" fill="none" stroke="#3a3ae8" stroke-width="0.7" stroke-opacity="0.75"/>
<circle cx="518.64" cy="101.99" r="2.3" fill="none" stroke="#3a3ae8" stroke-width="0.7" stroke-opacity="0.75"/>
<circle cx="523.85" cy="99.79" r="2.3" fill="none" stroke="#3a3ae8" stroke-width="0.7" stroke-opacity="0.75"/>
<circle cx="529.07" cy="116.69" r="2.3" fill="none" stroke="#3a3ae8" stroke-width="0.7" stroke-opacity="0.75"/>
<circle cx="534.28" cy="19.50" r="2.3" fill="none" stroke="#3a3ae8" stroke-width="0.7" stroke-opacity="0.75"/>
<circle cx="539.50" cy="177.57" r="2.3" fill="none" stroke="#3a3ae8" stroke-width="0.7" stroke-opacity="0.75"/>
<polyline points="310.02,177.28 315.23,180.88 320.45,180.88 325.66,178.38 330.88,184.48 336.09,171.39 341.31,186.10 346.52,162.50 351.74,186.02 356.96,161.17 362.17,152.72 367.39,186.61 372.60,185.51 377.82,178.38 383.03,177.94 388.25,186.02 393.46,171.69 398.68,182.50 403.90,186.10 409.11,166.17 414.33,142.87 419.54,151.47 424.76,178.38 429.97,187.49 435.19,180.88 440.40,182.50 445.62,172.06 450.84,183.82 456.05,163.23 461.27,182.50 466.48,182.50 471.70,163.97 476.91,152.20 482.13,187.13 487.34,186.10 492.56,188.23 497.78,154.70 502.99,168.60 508.21,158.82 513.42,136.77 518.64,155.51 523.85,168.60 529.07,164.78 534.28,181.17 539.50,182.35" fill="none" stroke="#3ae83a" stroke-width="0.8" stroke-opacity="0.55" stroke-linejoin="round"/>
<circle cx="310.02" cy="177.28" r="2.3" fill="none" stroke="#3ae83a" stroke-width="0.7" stroke-opacity="0.75"/>
<circle cx="315.23" cy="180.88" r="2.3" fill="none" stroke="#3ae83a" stroke-width="0.7" stroke-opacity="0.75"/>
<circle cx="320.45" cy="180.88" r="2.3" fill="none" stroke="#3ae83a" stroke-width="0.7" stroke-opacity="0.75"/>
<circle cx="325.66" cy="178.38" r="2.3" fill="none" stroke="#3ae83a" stroke-width="0.7" stroke-opacity="0.75"/>
<circle cx="330.88" cy="184.48" r="2.3" fill="none" stroke="#3ae83a" stroke-width="0.7" stroke-opacity="0.75"/>
<circle cx="336.09" cy="171.39" r="2.3" fill="none" stroke="#3ae83a" stroke-width="0.7" stroke-opacity="0.75"/>
<circle cx="341.31" cy="186.10" r="2.3" fill="none" stroke="#3ae83a" stroke-width="0.7" stroke-opacity="0.75"/>
<circle cx="346.52" cy="162.50" r="2.3" fill="none" stroke="#3ae83a" stroke-width="0.7" stroke-opacity="0.75"/>
<circle cx="351.74" cy="186.02" r="2.3" fill="none" stroke="#3ae83a" stroke-width="0.7" stroke-opacity="0.75"/>
<circle cx="356.96" cy="161.17" r="2.3" fill="none" stroke="#3ae83a" stroke-width="0.7" stroke-opacity="0.75"/>
<circle cx="362.17" cy="152.72" r="2.3" fill="none" stroke="#3ae83a" stroke-width="0.7" stroke-opacity="0.75"/>
<circle cx="367.39" cy="186.61" r="2.3" fill="none" stroke="#3ae83a" stroke-width="0.7" stroke-opacity="0.75"/>
<circle cx="372.60" cy="185.51" r="2.3" fill="none" stroke="#3ae83a" stroke-width="0.7" stroke-opacity="0.75"/>
<circle cx="377.82" cy="178.38" r="2.3" fill="none" stroke="#3ae83a" stroke-width="0.7" stroke-opacity="0.75"/>
<circle cx="383.03" cy="177.94" r="2.3" fill="none" stroke="#3ae83a" stroke-width="0.7" stroke-opacity="0.75"/>
<circle cx="388.25" cy="186.02" r="2.3" fill="none" stroke="#3ae83a" stroke-width="0.7" stroke-opacity="0.75"/>
<circle cx="393.46" cy="171.69" r="2.3" fill="none" stroke="#3ae83a" stroke-width="0.7" stroke-opacity="0.75"/>
<circle cx="398.68" cy="182.50" r="2.3" fill="none" stroke="#3ae83a" stroke-width="0.7" stroke-opacity="0.75"/>
<circle cx="403.90" cy="186.10" r="2.3" fill="none" stroke="#3ae83a" stroke-width="0.7" stroke-opacity="0.75"/>
<circle cx="409.11" cy="166.17" r="2.3" fill="none" stroke="#3ae83a" stroke-width="0.7" stroke-opacity="0.75"/>
<circle cx="414.33" cy="142.87" r="2.3" fill="none" stroke="#3ae83a" stroke-width="0.7" stroke-opacity="0.75"/>
<circle cx="419.54" cy="151.47" r="2.3" fill="none" stroke="#3ae83a" stroke-width="0.7" stroke-opacity="0.75"/>
<circle cx="424.76" cy="178.38" r="2.3" fill="none" stroke="#3ae83a" stroke-width="0.7" stroke-opacity="0.75"/>
<circle cx="429.97" cy="187.49" r="2.3" fill="none" stroke="#3ae83a" stroke-width="0.7" stroke-opacity="0.75"/>
<circle cx="435.19" cy="180.88" r="2.3" fill="none" stroke="#3ae83a" stroke-width="0.7" stroke-opacity="0.75"/>
<circle cx="440.40" cy="182.50" r="2.3" fill="none" stroke="#3ae83a" stroke-width="0.7" stroke-opacity="0.75"/>
<circle cx="445.62" cy="172.06" r="2.3" fill="none" stroke="#3ae83a" stroke-width="0.7" stroke-opacity="0.75"/>
<circle cx="450.84" cy="183.82" r="2.3" fill="none" stroke="#3ae83a" stroke-width="0.7" stroke-opacity="0.75"/>
<circle cx="456.05" cy="163.23" r="2.3" fill="none" stroke="#3ae83a" stroke-width="0.7" stroke-opacity="0.75"/>
<circle cx="461.27" cy="182.50" r="2.3" fill="none" stroke="#3ae83a" stroke-width="0.7" stroke-opacity="0.75"/>
<circle cx="466.48" cy="182.50" r="2.3" fill="none" stroke="#3ae83a" stroke-width="0.7" stroke-opacity="0.75"/>
<circle cx="471.70" cy="163.97" r="2.3" fill="none" stroke="#3ae83a" stroke-width="0.7" stroke-opacity="0.75"/>
<circle cx="476.91" cy="152.20" r="2.3" fill="none" stroke="#3ae83a" stroke-width="0.7" stroke-opacity="0.75"/>
<circle cx="482.13" cy="187.13" r="2.3" fill="none" stroke="#3ae83a" stroke-width="0.7" stroke-opacity="0.75"/>
<circle cx="487.34" cy="186.10" r="2.3" fill="none" stroke="#3ae83a" stroke-width="0.7" stroke-opacity="0.75"/>
<circle cx="492.56" cy="188.23" r="2.3" fill="none" stroke="#3ae83a" stroke-width="0.7" stroke-opacity="0.75"/>
<circle cx="497.78" cy="154.70" r="2.3" fill="none" stroke="#3ae83a" stroke-width="0.7" stroke-opacity="0.75"/>
<circle cx="502.99" cy="168.60" r="2.3" fill="none" stroke="#3ae83a" stroke-width="0.7" stroke-opacity="0.75"/>
<circle cx="508.21" cy="158.82" r="2.3" fill="none" stroke="#3ae83a" stroke-width="0.7" stroke-opacity="0.75"/>
<circle cx="513.42" cy="136.77" r="2.3" fill="none" stroke="#3ae83a" stroke-width="0.7" stroke-opacity="0.75"/>
<circle cx="518.64" cy="155.51" r="2.3" fill="none" stroke="#3ae83a" stroke-width="0.7" stroke-opacity="0.75"/>
<circle cx="523.85" cy="168.60" r="2.3" fill="none" stroke="#3ae83a" stroke-width="0.7" stroke-opacity="0.75"/>
<circle cx="529.07" cy="164.78" r="2.3" fill="none" stroke="#3ae83a" stroke-width="0.7" stroke-opacity="0.75"/>
<circle cx="534.28" cy="181.17" r="2.3" fill="none" stroke="#3ae83a" stroke-width="0.7" stroke-opacity="0.75"/>
<circle cx="539.50" cy="182.35" r="2.3" fill="none" stroke="#3ae83a" stroke-width="0.7" stroke-opacity="0.75"/>
<rect x="304.80" y="5.40" width="234.70" height="183.80" fill="none" stroke="#b4b4b4" stroke-width="1"/>
<line x1="304.80" y1="189.2" x2="304.80" y2="187.2" stroke="#b4b4b4" stroke-width="0.8"/>
<line x1="304.80" y1="5.4" x2="304.80" y2="7.4" stroke="#b4b4b4" stroke-width="0.8"/>
<text transform="translate(304.80,200.10) scale(0.92,1)" text-anchor="middle">0</text>
<line x1="330.88" y1="189.2" x2="330.88" y2="187.2" stroke="#b4b4b4" stroke-width="0.8"/>
<line x1="330.88" y1="5.4" x2="330.88" y2="7.4" stroke="#b4b4b4" stroke-width="0.8"/>
<text transform="translate(330.88,200.10) scale(0.92,1)" text-anchor="middle">5</text>
<line x1="356.96" y1="189.2" x2="356.96" y2="187.2" stroke="#b4b4b4" stroke-width="0.8"/>
<line x1="356.96" y1="5.4" x2="356.96" y2="7.4" stroke="#b4b4b4" stroke-width="0.8"/>
<text transform="translate(356.96,200.10) scale(0.92,1)" text-anchor="middle">10</text>
<line x1="383.03" y1="189.2" x2="383.03" y2="187.2" stroke="#b4b4b4" stroke-width="0.8"/>
<line x1="383.03" y1="5.4" x2="383.03" y2="7.4" stroke="#b4b4b4" stroke-width="0.8"/>
<text transform="translate(383.03,200.10) scale(0.92,1)" text-anchor="middle">15</text>
<line x1="409.11" y1="189.2" x2="409.11" y2="187.2" stroke="#b4b4b4" stroke-width="0.8"/>
<line x1="409.11" y1="5.4" x2="409.11" y2="7.4" stroke="#b4b4b4" stroke-width="0.8"/>
<text transform="translate(409.11,200.10) scale(0.92,1)" text-anchor="middle">20</text>
<line x1="435.19" y1="189.2" x2="435.19" y2="187.2" stroke="#b4b4b4" stroke-width="0.8"/>
<line x1="435.19" y1="5.4" x2="435.19" y2="7.4" stroke="#b4b4b4" stroke-width="0.8"/>
<text transform="translate(435.19,200.10) scale(0.92,1)" text-anchor="middle">25</text>
<line x1="461.27" y1="189.2" x2="461.27" y2="187.2" stroke="#b4b4b4" stroke-width="0.8"/>
<line x1="461.27" y1="5.4" x2="461.27" y2="7.4" stroke="#b4b4b4" stroke-width="0.8"/>
<text transform="translate(461.27,200.10) scale(0.92,1)" text-anchor="middle">30</text>
<line x1="487.34" y1="189.2" x2="487.34" y2="187.2" stroke="#b4b4b4" stroke-width="0.8"/>
<line x1="487.34" y1="5.4" x2="487.34" y2="7.4" stroke="#b4b4b4" stroke-width="0.8"/>
<text transform="translate(487.34,200.10) scale(0.92,1)" text-anchor="middle">35</text>
<line x1="513.42" y1="189.2" x2="513.42" y2="187.2" stroke="#b4b4b4" stroke-width="0.8"/>
<line x1="513.42" y1="5.4" x2="513.42" y2="7.4" stroke="#b4b4b4" stroke-width="0.8"/>
<text transform="translate(513.42,200.10) scale(0.92,1)" text-anchor="middle">40</text>
<line x1="539.50" y1="189.2" x2="539.50" y2="187.2" stroke="#b4b4b4" stroke-width="0.8"/>
<line x1="539.50" y1="5.4" x2="539.50" y2="7.4" stroke="#b4b4b4" stroke-width="0.8"/>
<text transform="translate(539.50,200.10) scale(0.92,1)" text-anchor="middle">45</text>
<line x1="304.8" y1="189.20" x2="306.8" y2="189.20" stroke="#b4b4b4" stroke-width="0.8"/>
<line x1="539.5" y1="189.20" x2="537.5" y2="189.20" stroke="#b4b4b4" stroke-width="0.8"/>
<text transform="translate(301.50,192.30) scale(0.92,1)" text-anchor="end">0</text>
<line x1="304.8" y1="152.44" x2="306.8" y2="152.44" stroke="#b4b4b4" stroke-width="0.8"/>
<line x1="539.5" y1="152.44" x2="537.5" y2="152.44" stroke="#b4b4b4" stroke-width="0.8"/>
<text transform="translate(301.50,155.54) scale(0.92,1)" text-anchor="end">0.5</text>
<line x1="304.8" y1="115.68" x2="306.8" y2="115.68" stroke="#b4b4b4" stroke-width="0.8"/>
<line x1="539.5" y1="115.68" x2="537.5" y2="115.68" stroke="#b4b4b4" stroke-width="0.8"/>
<text transform="translate(301.50,118.78) scale(0.92,1)" text-anchor="end">1</text>
<line x1="304.8" y1="78.92" x2="306.8" y2="78.92" stroke="#b4b4b4" stroke-width="0.8"/>
<line x1="539.5" y1="78.92" x2="537.5" y2="78.92" stroke="#b4b4b4" stroke-width="0.8"/>
<text transform="translate(301.50,82.02) scale(0.92,1)" text-anchor="end">1.5</text>
<line x1="304.8" y1="42.16" x2="306.8" y2="42.16" stroke="#b4b4b4" stroke-width="0.8"/>
<line x1="539.5" y1="42.16" x2="537.5" y2="42.16" stroke="#b4b4b4" stroke-width="0.8"/>
<text transform="translate(301.50,45.26) scale(0.92,1)" text-anchor="end">2</text>
<line x1="304.8" y1="5.40" x2="306.8" y2="5.40" stroke="#b4b4b4" stroke-width="0.8"/>
<line x1="539.5" y1="5.40" x2="537.5" y2="5.40" stroke="#b4b4b4" stroke-width="0.8"/>
<text transform="translate(301.50,8.50) scale(0.92,1)" text-anchor="end">2.5</text>
<text x="422.15" y="210.3" text-anchor="middle" font-size="7.7">Group No.</text>
<text transform="translate(286.6,95.8) rotate(-90)" text-anchor="middle" font-size="7.5">Width Error(<tspan dx="0.7">μ</tspan><tspan dx="0.5">m)</tspan></text>
<text x="421.6" y="225.5" text-anchor="middle" font-family="Liberation Serif, serif" font-weight="bold" font-size="13" fill="#111"><tspan font-size="11">(</tspan>b<tspan font-size="11">)</tspan></text>
<rect x="481.3" y="8.4" width="49.50" height="29.10" fill="#fff" stroke="#b4b4b4" stroke-width="0.9"/>
<line x1="483.8" y1="14.1" x2="504.9" y2="14.1" stroke="#e83a3a" stroke-width="0.8" stroke-opacity="0.75"/>
<circle cx="494.35" cy="14.1" r="2.3" fill="none" stroke="#e83a3a" stroke-width="0.7" stroke-opacity="0.75"/>
<text x="506.7" y="16.4" font-size="6.3">BP</text>
<line x1="483.8" y1="22.8" x2="504.9" y2="22.8" stroke="#3a3ae8" stroke-width="0.8" stroke-opacity="0.75"/>
<circle cx="494.35" cy="22.8" r="2.3" fill="none" stroke="#3a3ae8" stroke-width="0.7" stroke-opacity="0.75"/>
<text x="506.7" y="25.1" font-size="6.3">RBF</text>
<line x1="483.8" y1="31.6" x2="504.9" y2="31.6" stroke="#3ae83a" stroke-width="0.8" stroke-opacity="0.75"/>
<circle cx="494.35" cy="31.6" r="2.3" fill="none" stroke="#3ae83a" stroke-width="0.7" stroke-opacity="0.75"/>
<text x="506.7" y="33.9" font-size="6.3">ELMSS</text></g>
<g><polyline points="36.35,417.49 41.39,434.40 46.44,388.52 51.49,412.60 56.53,417.49 61.58,436.38 66.63,438.01 71.67,407.72 76.72,445.29 81.77,400.28 86.81,361.38 91.86,426.45 96.91,438.01 101.95,366.17 107.00,421.62 112.05,444.27 117.09,441.32 122.14,375.28 127.19,399.47 132.23,444.27 137.28,425.18 142.33,401.10 147.37,392.34 152.42,424.52 157.47,430.53 162.51,406.49 167.56,440.50 172.61,369.43 177.65,354.51 182.70,390.10 187.75,404.41 192.79,433.38 197.84,427.78 202.89,373.65 207.93,406.80 212.98,440.50 218.03,365.36 223.07,411.79 228.12,396.21 233.17,417.49 238.21,440.96 243.26,426.20 248.31,438.21 253.35,387.50 258.40,436.38" fill="none" stroke="#e83a3a" stroke-width="0.8" stroke-opacity="0.55" stroke-linejoin="round"/>
<circle cx="36.35" cy="417.49" r="2.3" fill="none" stroke="#e83a3a" stroke-width="0.7" stroke-opacity="0.75"/>
<circle cx="41.39" cy="434.40" r="2.3" fill="none" stroke="#e83a3a" stroke-width="0.7" stroke-opacity="0.75"/>
<circle cx="46.44" cy="388.52" r="2.3" fill="none" stroke="#e83a3a" stroke-width="0.7" stroke-opacity="0.75"/>
<circle cx="51.49" cy="412.60" r="2.3" fill="none" stroke="#e83a3a" stroke-width="0.7" stroke-opacity="0.75"/>
<circle cx="56.53" cy="417.49" r="2.3" fill="none" stroke="#e83a3a" stroke-width="0.7" stroke-opacity="0.75"/>
<circle cx="61.58" cy="436.38" r="2.3" fill="none" stroke="#e83a3a" stroke-width="0.7" stroke-opacity="0.75"/>
<circle cx="66.63" cy="438.01" r="2.3" fill="none" stroke="#e83a3a" stroke-width="0.7" stroke-opacity="0.75"/>
<circle cx="71.67" cy="407.72" r="2.3" fill="none" stroke="#e83a3a" stroke-width="0.7" stroke-opacity="0.75"/>
<circle cx="76.72" cy="445.29" r="2.3" fill="none" stroke="#e83a3a" stroke-width="0.7" stroke-opacity="0.75"/>
<circle cx="81.77" cy="400.28" r="2.3" fill="none" stroke="#e83a3a" stroke-width="0.7" stroke-opacity="0.75"/>
<circle cx="86.81" cy="361.38" r="2.3" fill="none" stroke="#e83a3a" stroke-width="0.7" stroke-opacity="0.75"/>
<circle cx="91.86" cy="426.45" r="2.3" fill="none" stroke="#e83a3a" stroke-width="0.7" stroke-opacity="0.75"/>
<circle cx="96.91" cy="438.01" r="2.3" fill="none" stroke="#e83a3a" stroke-width="0.7" stroke-opacity="0.75"/>
<circle cx="101.95" cy="366.17" r="2.3" fill="none" stroke="#e83a3a" stroke-width="0.7" stroke-opacity="0.75"/>
<circle cx="107.00" cy="421.62" r="2.3" fill="none" stroke="#e83a3a" stroke-width="0.7" stroke-opacity="0.75"/>
<circle cx="112.05" cy="444.27" r="2.3" fill="none" stroke="#e83a3a" stroke-width="0.7" stroke-opacity="0.75"/>
<circle cx="117.09" cy="441.32" r="2.3" fill="none" stroke="#e83a3a" stroke-width="0.7" stroke-opacity="0.75"/>
<circle cx="122.14" cy="375.28" r="2.3" fill="none" stroke="#e83a3a" stroke-width="0.7" stroke-opacity="0.75"/>
<circle cx="127.19" cy="399.47" r="2.3" fill="none" stroke="#e83a3a" stroke-width="0.7" stroke-opacity="0.75"/>
<circle cx="132.23" cy="444.27" r="2.3" fill="none" stroke="#e83a3a" stroke-width="0.7" stroke-opacity="0.75"/>
<circle cx="137.28" cy="425.18" r="2.3" fill="none" stroke="#e83a3a" stroke-width="0.7" stroke-opacity="0.75"/>
<circle cx="142.33" cy="401.10" r="2.3" fill="none" stroke="#e83a3a" stroke-width="0.7" stroke-opacity="0.75"/>
<circle cx="147.37" cy="392.34" r="2.3" fill="none" stroke="#e83a3a" stroke-width="0.7" stroke-opacity="0.75"/>
<circle cx="152.42" cy="424.52" r="2.3" fill="none" stroke="#e83a3a" stroke-width="0.7" stroke-opacity="0.75"/>
<circle cx="157.47" cy="430.53" r="2.3" fill="none" stroke="#e83a3a" stroke-width="0.7" stroke-opacity="0.75"/>
<circle cx="162.51" cy="406.49" r="2.3" fill="none" stroke="#e83a3a" stroke-width="0.7" stroke-opacity="0.75"/>
<circle cx="167.56" cy="440.50" r="2.3" fill="none" stroke="#e83a3a" stroke-width="0.7" stroke-opacity="0.75"/>
<circle cx="172.61" cy="369.43" r="2.3" fill="none" stroke="#e83a3a" stroke-width="0.7" stroke-opacity="0.75"/>
<circle cx="177.65" cy="354.51" r="2.3" fill="none" stroke="#e83a3a" stroke-width="0.7" stroke-opacity="0.75"/>
<circle cx="182.70" cy="390.10" r="2.3" fill="none" stroke="#e83a3a" stroke-width="0.7" stroke-opacity="0.75"/>
<circle cx="187.75" cy="404.41" r="2.3" fill="none" stroke="#e83a3a" stroke-width="0.7" stroke-opacity="0.75"/>
<circle cx="192.79" cy="433.38" r="2.3" fill="none" stroke="#e83a3a" stroke-width="0.7" stroke-opacity="0.75"/>
<circle cx="197.84" cy="427.78" r="2.3" fill="none" stroke="#e83a3a" stroke-width="0.7" stroke-opacity="0.75"/>
<circle cx="202.89" cy="373.65" r="2.3" fill="none" stroke="#e83a3a" stroke-width="0.7" stroke-opacity="0.75"/>
<circle cx="207.93" cy="406.80" r="2.3" fill="none" stroke="#e83a3a" stroke-width="0.7" stroke-opacity="0.75"/>
<circle cx="212.98" cy="440.50" r="2.3" fill="none" stroke="#e83a3a" stroke-width="0.7" stroke-opacity="0.75"/>
<circle cx="218.03" cy="365.36" r="2.3" fill="none" stroke="#e83a3a" stroke-width="0.7" stroke-opacity="0.75"/>
<circle cx="223.07" cy="411.79" r="2.3" fill="none" stroke="#e83a3a" stroke-width="0.7" stroke-opacity="0.75"/>
<circle cx="228.12" cy="396.21" r="2.3" fill="none" stroke="#e83a3a" stroke-width="0.7" stroke-opacity="0.75"/>
<circle cx="233.17" cy="417.49" r="2.3" fill="none" stroke="#e83a3a" stroke-width="0.7" stroke-opacity="0.75"/>
<circle cx="238.21" cy="440.96" r="2.3" fill="none" stroke="#e83a3a" stroke-width="0.7" stroke-opacity="0.75"/>
<circle cx="243.26" cy="426.20" r="2.3" fill="none" stroke="#e83a3a" stroke-width="0.7" stroke-opacity="0.75"/>
<circle cx="248.31" cy="438.21" r="2.3" fill="none" stroke="#e83a3a" stroke-width="0.7" stroke-opacity="0.75"/>
<circle cx="253.35" cy="387.50" r="2.3" fill="none" stroke="#e83a3a" stroke-width="0.7" stroke-opacity="0.75"/>
<circle cx="258.40" cy="436.38" r="2.3" fill="none" stroke="#e83a3a" stroke-width="0.7" stroke-opacity="0.75"/>
<polyline points="36.35,441.57 41.39,389.79 46.44,393.36 51.49,409.80 56.53,392.09 61.58,433.07 66.63,409.80 71.67,291.38 76.72,439.69 81.77,377.32 86.81,419.99 91.86,444.78 96.91,393.71 101.95,424.11 107.00,377.68 112.05,399.06 117.09,349.06 122.14,394.48 127.19,346.52 132.23,410.52 137.28,442.90 142.33,438.01 147.37,349.06 152.42,381.39 157.47,436.79 162.51,410.52 167.56,423.19 172.61,363.83 177.65,321.37 182.70,442.08 187.75,344.07 192.79,409.80 197.84,424.11 202.89,419.58 207.93,421.26 212.98,434.40 218.03,390.10 223.07,441.12 228.12,351.81 233.17,390.30 238.21,398.45 243.26,383.07 248.31,369.43 253.35,412.71 258.40,442.08" fill="none" stroke="#3a3ae8" stroke-width="0.8" stroke-opacity="0.55" stroke-linejoin="round"/>
<circle cx="36.35" cy="441.57" r="2.3" fill="none" stroke="#3a3ae8" stroke-width="0.7" stroke-opacity="0.75"/>
<circle cx="41.39" cy="389.79" r="2.3" fill="none" stroke="#3a3ae8" stroke-width="0.7" stroke-opacity="0.75"/>
<circle cx="46.44" cy="393.36" r="2.3" fill="none" stroke="#3a3ae8" stroke-width="0.7" stroke-opacity="0.75"/>
<circle cx="51.49" cy="409.80" r="2.3" fill="none" stroke="#3a3ae8" stroke-width="0.7" stroke-opacity="0.75"/>
<circle cx="56.53" cy="392.09" r="2.3" fill="none" stroke="#3a3ae8" stroke-width="0.7" stroke-opacity="0.75"/>
<circle cx="61.58" cy="433.07" r="2.3" fill="none" stroke="#3a3ae8" stroke-width="0.7" stroke-opacity="0.75"/>
<circle cx="66.63" cy="409.80" r="2.3" fill="none" stroke="#3a3ae8" stroke-width="0.7" stroke-opacity="0.75"/>
<circle cx="71.67" cy="291.38" r="2.3" fill="none" stroke="#3a3ae8" stroke-width="0.7" stroke-opacity="0.75"/>
<circle cx="76.72" cy="439.69" r="2.3" fill="none" stroke="#3a3ae8" stroke-width="0.7" stroke-opacity="0.75"/>
<circle cx="81.77" cy="377.32" r="2.3" fill="none" stroke="#3a3ae8" stroke-width="0.7" stroke-opacity="0.75"/>
<circle cx="86.81" cy="419.99" r="2.3" fill="none" stroke="#3a3ae8" stroke-width="0.7" stroke-opacity="0.75"/>
<circle cx="91.86" cy="444.78" r="2.3" fill="none" stroke="#3a3ae8" stroke-width="0.7" stroke-opacity="0.75"/>
<circle cx="96.91" cy="393.71" r="2.3" fill="none" stroke="#3a3ae8" stroke-width="0.7" stroke-opacity="0.75"/>
<circle cx="101.95" cy="424.11" r="2.3" fill="none" stroke="#3a3ae8" stroke-width="0.7" stroke-opacity="0.75"/>
<circle cx="107.00" cy="377.68" r="2.3" fill="none" stroke="#3a3ae8" stroke-width="0.7" stroke-opacity="0.75"/>
<circle cx="112.05" cy="399.06" r="2.3" fill="none" stroke="#3a3ae8" stroke-width="0.7" stroke-opacity="0.75"/>
<circle cx="117.09" cy="349.06" r="2.3" fill="none" stroke="#3a3ae8" stroke-width="0.7" stroke-opacity="0.75"/>
<circle cx="122.14" cy="394.48" r="2.3" fill="none" stroke="#3a3ae8" stroke-width="0.7" stroke-opacity="0.75"/>
<circle cx="127.19" cy="346.52" r="2.3" fill="none" stroke="#3a3ae8" stroke-width="0.7" stroke-opacity="0.75"/>
<circle cx="132.23" cy="410.52" r="2.3" fill="none" stroke="#3a3ae8" stroke-width="0.7" stroke-opacity="0.75"/>
<circle cx="137.28" cy="442.90" r="2.3" fill="none" stroke="#3a3ae8" stroke-width="0.7" stroke-opacity="0.75"/>
<circle cx="142.33" cy="438.01" r="2.3" fill="none" stroke="#3a3ae8" stroke-width="0.7" stroke-opacity="0.75"/>
<circle cx="147.37" cy="349.06" r="2.3" fill="none" stroke="#3a3ae8" stroke-width="0.7" stroke-opacity="0.75"/>
<circle cx="152.42" cy="381.39" r="2.3" fill="none" stroke="#3a3ae8" stroke-width="0.7" stroke-opacity="0.75"/>
<circle cx="157.47" cy="436.79" r="2.3" fill="none" stroke="#3a3ae8" stroke-width="0.7" stroke-opacity="0.75"/>
<circle cx="162.51" cy="410.52" r="2.3" fill="none" stroke="#3a3ae8" stroke-width="0.7" stroke-opacity="0.75"/>
<circle cx="167.56" cy="423.19" r="2.3" fill="none" stroke="#3a3ae8" stroke-width="0.7" stroke-opacity="0.75"/>
<circle cx="172.61" cy="363.83" r="2.3" fill="none" stroke="#3a3ae8" stroke-width="0.7" stroke-opacity="0.75"/>
<circle cx="177.65" cy="321.37" r="2.3" fill="none" stroke="#3a3ae8" stroke-width="0.7" stroke-opacity="0.75"/>
<circle cx="182.70" cy="442.08" r="2.3" fill="none" stroke="#3a3ae8" stroke-width="0.7" stroke-opacity="0.75"/>
<circle cx="187.75" cy="344.07" r="2.3" fill="none" stroke="#3a3ae8" stroke-width="0.7" stroke-opacity="0.75"/>
<circle cx="192.79" cy="409.80" r="2.3" fill="none" stroke="#3a3ae8" stroke-width="0.7" stroke-opacity="0.75"/>
<circle cx="197.84" cy="424.11" r="2.3" fill="none" stroke="#3a3ae8" stroke-width="0.7" stroke-opacity="0.75"/>
<circle cx="202.89" cy="419.58" r="2.3" fill="none" stroke="#3a3ae8" stroke-width="0.7" stroke-opacity="0.75"/>
<circle cx="207.93" cy="421.26" r="2.3" fill="none" stroke="#3a3ae8" stroke-width="0.7" stroke-opacity="0.75"/>
<circle cx="212.98" cy="434.40" r="2.3" fill="none" stroke="#3a3ae8" stroke-width="0.7" stroke-opacity="0.75"/>
<circle cx="218.03" cy="390.10" r="2.3" fill="none" stroke="#3a3ae8" stroke-width="0.7" stroke-opacity="0.75"/>
<circle cx="223.07" cy="441.12" r="2.3" fill="none" stroke="#3a3ae8" stroke-width="0.7" stroke-opacity="0.75"/>
<circle cx="228.12" cy="351.81" r="2.3" fill="none" stroke="#3a3ae8" stroke-width="0.7" stroke-opacity="0.75"/>
<circle cx="233.17" cy="390.30" r="2.3" fill="none" stroke="#3a3ae8" stroke-width="0.7" stroke-opacity="0.75"/>
<circle cx="238.21" cy="398.45" r="2.3" fill="none" stroke="#3a3ae8" stroke-width="0.7" stroke-opacity="0.75"/>
<circle cx="243.26" cy="383.07" r="2.3" fill="none" stroke="#3a3ae8" stroke-width="0.7" stroke-opacity="0.75"/>
<circle cx="248.31" cy="369.43" r="2.3" fill="none" stroke="#3a3ae8" stroke-width="0.7" stroke-opacity="0.75"/>
<circle cx="253.35" cy="412.71" r="2.3" fill="none" stroke="#3a3ae8" stroke-width="0.7" stroke-opacity="0.75"/>
<circle cx="258.40" cy="442.08" r="2.3" fill="none" stroke="#3a3ae8" stroke-width="0.7" stroke-opacity="0.75"/>
<polyline points="36.35,430.58 41.39,438.82 46.44,442.90 51.49,438.82 56.53,438.01 61.58,417.49 66.63,410.52 71.67,419.07 76.72,439.69 81.77,431.39 86.81,442.75 91.86,444.27 96.91,444.78 101.95,431.54 107.00,439.69 112.05,429.51 117.09,401.61 122.14,404.86 127.19,442.08 132.23,431.39 137.28,436.38 142.33,427.32 147.37,406.80 152.42,429.51 157.47,442.08 162.51,442.08 167.56,419.07 172.61,439.28 177.65,445.29 182.70,442.08 187.75,437.65 192.79,427.78 197.84,435.97 202.89,438.01 207.93,438.21 212.98,424.93 218.03,405.99 223.07,443.76 228.12,442.90 233.17,433.07 238.21,422.38 243.26,433.89 248.31,415.91 253.35,416.52 258.40,424.11" fill="none" stroke="#3ae83a" stroke-width="0.8" stroke-opacity="0.55" stroke-linejoin="round"/>
<circle cx="36.35" cy="430.58" r="2.3" fill="none" stroke="#3ae83a" stroke-width="0.7" stroke-opacity="0.75"/>
<circle cx="41.39" cy="438.82" r="2.3" fill="none" stroke="#3ae83a" stroke-width="0.7" stroke-opacity="0.75"/>
<circle cx="46.44" cy="442.90" r="2.3" fill="none" stroke="#3ae83a" stroke-width="0.7" stroke-opacity="0.75"/>
<circle cx="51.49" cy="438.82" r="2.3" fill="none" stroke="#3ae83a" stroke-width="0.7" stroke-opacity="0.75"/>
<circle cx="56.53" cy="438.01" r="2.3" fill="none" stroke="#3ae83a" stroke-width="0.7" stroke-opacity="0.75"/>
<circle cx="61.58" cy="417.49" r="2.3" fill="none" stroke="#3ae83a" stroke-width="0.7" stroke-opacity="0.75"/>
<circle cx="66.63" cy="410.52" r="2.3" fill="none" stroke="#3ae83a" stroke-width="0.7" stroke-opacity="0.75"/>
<circle cx="71.67" cy="419.07" r="2.3" fill="none" stroke="#3ae83a" stroke-width="0.7" stroke-opacity="0.75"/>
<circle cx="76.72" cy="439.69" r="2.3" fill="none" stroke="#3ae83a" stroke-width="0.7" stroke-opacity="0.75"/>
<circle cx="81.77" cy="431.39" r="2.3" fill="none" stroke="#3ae83a" stroke-width="0.7" stroke-opacity="0.75"/>
<circle cx="86.81" cy="442.75" r="2.3" fill="none" stroke="#3ae83a" stroke-width="0.7" stroke-opacity="0.75"/>
<circle cx="91.86" cy="444.27" r="2.3" fill="none" stroke="#3ae83a" stroke-width="0.7" stroke-opacity="0.75"/>
<circle cx="96.91" cy="444.78" r="2.3" fill="none" stroke="#3ae83a" stroke-width="0.7" stroke-opacity="0.75"/>
<circle cx="101.95" cy="431.54" r="2.3" fill="none" stroke="#3ae83a" stroke-width="0.7" stroke-opacity="0.75"/>
<circle cx="107.00" cy="439.69" r="2.3" fill="none" stroke="#3ae83a" stroke-width="0.7" stroke-opacity="0.75"/>
<circle cx="112.05" cy="429.51" r="2.3" fill="none" stroke="#3ae83a" stroke-width="0.7" stroke-opacity="0.75"/>
<circle cx="117.09" cy="401.61" r="2.3" fill="none" stroke="#3ae83a" stroke-width="0.7" stroke-opacity="0.75"/>
<circle cx="122.14" cy="404.86" r="2.3" fill="none" stroke="#3ae83a" stroke-width="0.7" stroke-opacity="0.75"/>
<circle cx="127.19" cy="442.08" r="2.3" fill="none" stroke="#3ae83a" stroke-width="0.7" stroke-opacity="0.75"/>
<circle cx="132.23" cy="431.39" r="2.3" fill="none" stroke="#3ae83a" stroke-width="0.7" stroke-opacity="0.75"/>
<circle cx="137.28" cy="436.38" r="2.3" fill="none" stroke="#3ae83a" stroke-width="0.7" stroke-opacity="0.75"/>
<circle cx="142.33" cy="427.32" r="2.3" fill="none" stroke="#3ae83a" stroke-width="0.7" stroke-opacity="0.75"/>
<circle cx="147.37" cy="406.80" r="2.3" fill="none" stroke="#3ae83a" stroke-width="0.7" stroke-opacity="0.75"/>
<circle cx="152.42" cy="429.51" r="2.3" fill="none" stroke="#3ae83a" stroke-width="0.7" stroke-opacity="0.75"/>
<circle cx="157.47" cy="442.08" r="2.3" fill="none" stroke="#3ae83a" stroke-width="0.7" stroke-opacity="0.75"/>
<circle cx="162.51" cy="442.08" r="2.3" fill="none" stroke="#3ae83a" stroke-width="0.7" stroke-opacity="0.75"/>
<circle cx="167.56" cy="419.07" r="2.3" fill="none" stroke="#3ae83a" stroke-width="0.7" stroke-opacity="0.75"/>
<circle cx="172.61" cy="439.28" r="2.3" fill="none" stroke="#3ae83a" stroke-width="0.7" stroke-opacity="0.75"/>
<circle cx="177.65" cy="445.29" r="2.3" fill="none" stroke="#3ae83a" stroke-width="0.7" stroke-opacity="0.75"/>
<circle cx="182.70" cy="442.08" r="2.3" fill="none" stroke="#3ae83a" stroke-width="0.7" stroke-opacity="0.75"/>
<circle cx="187.75" cy="437.65" r="2.3" fill="none" stroke="#3ae83a" stroke-width="0.7" stroke-opacity="0.75"/>
<circle cx="192.79" cy="427.78" r="2.3" fill="none" stroke="#3ae83a" stroke-width="0.7" stroke-opacity="0.75"/>
<circle cx="197.84" cy="435.97" r="2.3" fill="none" stroke="#3ae83a" stroke-width="0.7" stroke-opacity="0.75"/>
<circle cx="202.89" cy="438.01" r="2.3" fill="none" stroke="#3ae83a" stroke-width="0.7" stroke-opacity="0.75"/>
<circle cx="207.93" cy="438.21" r="2.3" fill="none" stroke="#3ae83a" stroke-width="0.7" stroke-opacity="0.75"/>
<circle cx="212.98" cy="424.93" r="2.3" fill="none" stroke="#3ae83a" stroke-width="0.7" stroke-opacity="0.75"/>
<circle cx="218.03" cy="405.99" r="2.3" fill="none" stroke="#3ae83a" stroke-width="0.7" stroke-opacity="0.75"/>
<circle cx="223.07" cy="443.76" r="2.3" fill="none" stroke="#3ae83a" stroke-width="0.7" stroke-opacity="0.75"/>
<circle cx="228.12" cy="442.90" r="2.3" fill="none" stroke="#3ae83a" stroke-width="0.7" stroke-opacity="0.75"/>
<circle cx="233.17" cy="433.07" r="2.3" fill="none" stroke="#3ae83a" stroke-width="0.7" stroke-opacity="0.75"/>
<circle cx="238.21" cy="422.38" r="2.3" fill="none" stroke="#3ae83a" stroke-width="0.7" stroke-opacity="0.75"/>
<circle cx="243.26" cy="433.89" r="2.3" fill="none" stroke="#3ae83a" stroke-width="0.7" stroke-opacity="0.75"/>
<circle cx="248.31" cy="415.91" r="2.3" fill="none" stroke="#3ae83a" stroke-width="0.7" stroke-opacity="0.75"/>
<circle cx="253.35" cy="416.52" r="2.3" fill="none" stroke="#3ae83a" stroke-width="0.7" stroke-opacity="0.75"/>
<circle cx="258.40" cy="424.11" r="2.3" fill="none" stroke="#3ae83a" stroke-width="0.7" stroke-opacity="0.75"/>
<rect x="31.30" y="267.10" width="227.10" height="178.20" fill="none" stroke="#b4b4b4" stroke-width="1"/>
<line x1="31.30" y1="445.3" x2="31.30" y2="443.3" stroke="#b4b4b4" stroke-width="0.8"/>
<line x1="31.30" y1="267.1" x2="31.30" y2="269.1" stroke="#b4b4b4" stroke-width="0.8"/>
<text transform="translate(31.30,455.50) scale(0.885,1)" text-anchor="middle">0</text>
<line x1="56.53" y1="445.3" x2="56.53" y2="443.3" stroke="#b4b4b4" stroke-width="0.8"/>
<line x1="56.53" y1="267.1" x2="56.53" y2="269.1" stroke="#b4b4b4" stroke-width="0.8"/>
<text transform="translate(56.53,455.50) scale(0.885,1)" text-anchor="middle">5</text>
<line x1="81.77" y1="445.3" x2="81.77" y2="443.3" stroke="#b4b4b4" stroke-width="0.8"/>
<line x1="81.77" y1="267.1" x2="81.77" y2="269.1" stroke="#b4b4b4" stroke-width="0.8"/>
<text transform="translate(81.77,455.50) scale(0.885,1)" text-anchor="middle">10</text>
<line x1="107.00" y1="445.3" x2="107.00" y2="443.3" stroke="#b4b4b4" stroke-width="0.8"/>
<line x1="107.00" y1="267.1" x2="107.00" y2="269.1" stroke="#b4b4b4" stroke-width="0.8"/>
<text transform="translate(107.00,455.50) scale(0.885,1)" text-anchor="middle">15</text>
<line x1="132.23" y1="445.3" x2="132.23" y2="443.3" stroke="#b4b4b4" stroke-width="0.8"/>
<line x1="132.23" y1="267.1" x2="132.23" y2="269.1" stroke="#b4b4b4" stroke-width="0.8"/>
<text transform="translate(132.23,455.50) scale(0.885,1)" text-anchor="middle">20</text>
<line x1="157.47" y1="445.3" x2="157.47" y2="443.3" stroke="#b4b4b4" stroke-width="0.8"/>
<line x1="157.47" y1="267.1" x2="157.47" y2="269.1" stroke="#b4b4b4" stroke-width="0.8"/>
<text transform="translate(157.47,455.50) scale(0.885,1)" text-anchor="middle">25</text>
<line x1="182.70" y1="445.3" x2="182.70" y2="443.3" stroke="#b4b4b4" stroke-width="0.8"/>
<line x1="182.70" y1="267.1" x2="182.70" y2="269.1" stroke="#b4b4b4" stroke-width="0.8"/>
<text transform="translate(182.70,455.50) scale(0.885,1)" text-anchor="middle">30</text>
<line x1="207.93" y1="445.3" x2="207.93" y2="443.3" stroke="#b4b4b4" stroke-width="0.8"/>
<line x1="207.93" y1="267.1" x2="207.93" y2="269.1" stroke="#b4b4b4" stroke-width="0.8"/>
<text transform="translate(207.93,455.50) scale(0.885,1)" text-anchor="middle">35</text>
<line x1="233.17" y1="445.3" x2="233.17" y2="443.3" stroke="#b4b4b4" stroke-width="0.8"/>
<line x1="233.17" y1="267.1" x2="233.17" y2="269.1" stroke="#b4b4b4" stroke-width="0.8"/>
<text transform="translate(233.17,455.50) scale(0.885,1)" text-anchor="middle">40</text>
<line x1="258.40" y1="445.3" x2="258.40" y2="443.3" stroke="#b4b4b4" stroke-width="0.8"/>
<line x1="258.40" y1="267.1" x2="258.40" y2="269.1" stroke="#b4b4b4" stroke-width="0.8"/>
<text transform="translate(258.40,455.50) scale(0.885,1)" text-anchor="middle">45</text>
<line x1="31.3" y1="445.30" x2="33.3" y2="445.30" stroke="#b4b4b4" stroke-width="0.8"/>
<line x1="258.4" y1="445.30" x2="256.4" y2="445.30" stroke="#b4b4b4" stroke-width="0.8"/>
<text transform="translate(28.10,448.40) scale(0.885,1)" text-anchor="end">0</text>
<line x1="31.3" y1="419.84" x2="33.3" y2="419.84" stroke="#b4b4b4" stroke-width="0.8"/>
<line x1="258.4" y1="419.84" x2="256.4" y2="419.84" stroke="#b4b4b4" stroke-width="0.8"/>
<text transform="translate(28.10,422.94) scale(0.885,1)" text-anchor="end">0.05</text>
<line x1="31.3" y1="394.39" x2="33.3" y2="394.39" stroke="#b4b4b4" stroke-width="0.8"/>
<line x1="258.4" y1="394.39" x2="256.4" y2="394.39" stroke="#b4b4b4" stroke-width="0.8"/>
<text transform="translate(28.10,397.49) scale(0.885,1)" text-anchor="end">0.1</text>
<line x1="31.3" y1="368.93" x2="33.3" y2="368.93" stroke="#b4b4b4" stroke-width="0.8"/>
<line x1="258.4" y1="368.93" x2="256.4" y2="368.93" stroke="#b4b4b4" stroke-width="0.8"/>
<text transform="translate(28.10,372.03) scale(0.885,1)" text-anchor="end">0.15</text>
<line x1="31.3" y1="343.47" x2="33.3" y2="343.47" stroke="#b4b4b4" stroke-width="0.8"/>
<line x1="258.4" y1="343.47" x2="256.4" y2="343.47" stroke="#b4b4b4" stroke-width="0.8"/>
<text transform="translate(28.10,346.57) scale(0.885,1)" text-anchor="end">0.2</text>
<line x1="31.3" y1="318.01" x2="33.3" y2="318.01" stroke="#b4b4b4" stroke-width="0.8"/>
<line x1="258.4" y1="318.01" x2="256.4" y2="318.01" stroke="#b4b4b4" stroke-width="0.8"/>
<text transform="translate(28.10,321.11) scale(0.885,1)" text-anchor="end">0.25</text>
<line x1="31.3" y1="292.56" x2="33.3" y2="292.56" stroke="#b4b4b4" stroke-width="0.8"/>
<line x1="258.4" y1="292.56" x2="256.4" y2="292.56" stroke="#b4b4b4" stroke-width="0.8"/>
<text transform="translate(28.10,295.66) scale(0.885,1)" text-anchor="end">0.3</text>
<line x1="31.3" y1="267.10" x2="33.3" y2="267.10" stroke="#b4b4b4" stroke-width="0.8"/>
<line x1="258.4" y1="267.10" x2="256.4" y2="267.10" stroke="#b4b4b4" stroke-width="0.8"/>
<text transform="translate(28.10,270.20) scale(0.885,1)" text-anchor="end">0.35</text>
<text x="144.85" y="465.8" text-anchor="middle" font-size="7.7">Group No.</text>
<text transform="translate(12.9,354.3) rotate(-90)" text-anchor="middle" font-size="7.6">MRR Error(mm<tspan dy="-3.2" font-size="6">3</tspan><tspan dy="3.2">/min)</tspan></text>
<text x="146.3" y="483.6" text-anchor="middle" font-family="Liberation Serif, serif" font-weight="bold" font-size="13" fill="#111"><tspan font-size="11">(</tspan>c<tspan font-size="11">)</tspan></text>
<rect x="204.3" y="272.4" width="48.50" height="27.60" fill="#fff" stroke="#b4b4b4" stroke-width="0.9"/>
<line x1="207" y1="277.9" x2="227.1" y2="277.9" stroke="#e83a3a" stroke-width="0.8" stroke-opacity="0.75"/>
<circle cx="217.05" cy="277.9" r="2.3" fill="none" stroke="#e83a3a" stroke-width="0.7" stroke-opacity="0.75"/>
<text x="229" y="280.2" font-size="6.3">BP</text>
<line x1="207" y1="286.5" x2="227.1" y2="286.5" stroke="#3a3ae8" stroke-width="0.8" stroke-opacity="0.75"/>
<circle cx="217.05" cy="286.5" r="2.3" fill="none" stroke="#3a3ae8" stroke-width="0.7" stroke-opacity="0.75"/>
<text x="229" y="288.8" font-size="6.3">RBF</text>
<line x1="207" y1="294.9" x2="227.1" y2="294.9" stroke="#3ae83a" stroke-width="0.8" stroke-opacity="0.75"/>
<circle cx="217.05" cy="294.9" r="2.3" fill="none" stroke="#3ae83a" stroke-width="0.7" stroke-opacity="0.75"/>
<text x="229" y="297.2" font-size="6.3">ELMSS</text></g>
<g><polyline points="323.62,388.83 326.74,430.60 329.86,422.38 332.98,417.50 336.10,382.74 339.23,385.50 342.35,372.54 345.47,381.82 348.59,405.68 351.71,427.13 354.83,387.48 357.95,431.38 361.07,401.00 364.19,392.22 367.31,319.23 370.43,411.69 373.55,421.96 376.68,397.82 379.80,393.22 382.92,422.67 386.04,345.43 389.16,438.03 392.28,371.48 395.40,364.68 398.52,395.27 401.64,383.02 404.76,354.63 407.88,383.02 411.00,359.23 414.12,401.43 417.25,439.09 420.37,413.46 423.49,436.83 426.61,293.32 429.73,431.16 432.85,429.04 435.97,425.50 439.09,417.50 442.21,417.00 445.33,381.39 448.45,375.94 451.58,379.83 454.70,392.01 457.82,377.29 460.94,423.16 464.06,299.19 467.18,417.50 470.30,439.09 473.42,419.84 476.54,392.01 479.66,321.00 482.78,440.08 485.90,403.98 489.03,361.64 492.15,438.03 495.27,361.64 498.39,406.31 501.51,316.82 504.63,417.78 507.75,426.49 510.87,419.84 513.99,344.08 517.11,399.09 520.23,398.60 523.35,396.97 526.48,438.03 529.60,352.01 532.72,423.73 535.84,394.21 538.96,370.70 542.08,412.05 545.20,335.23" fill="none" stroke="#e83a3a" stroke-width="0.8" stroke-opacity="0.55" stroke-linejoin="round"/>
<circle cx="323.62" cy="388.83" r="2.3" fill="none" stroke="#e83a3a" stroke-width="0.7" stroke-opacity="0.75"/>
<circle cx="326.74" cy="430.60" r="2.3" fill="none" stroke="#e83a3a" stroke-width="0.7" stroke-opacity="0.75"/>
<circle cx="329.86" cy="422.38" r="2.3" fill="none" stroke="#e83a3a" stroke-width="0.7" stroke-opacity="0.75"/>
<circle cx="332.98" cy="417.50" r="2.3" fill="none" stroke="#e83a3a" stroke-width="0.7" stroke-opacity="0.75"/>
<circle cx="336.10" cy="382.74" r="2.3" fill="none" stroke="#e83a3a" stroke-width="0.7" stroke-opacity="0.75"/>
<circle cx="339.23" cy="385.50" r="2.3" fill="none" stroke="#e83a3a" stroke-width="0.7" stroke-opacity="0.75"/>
<circle cx="342.35" cy="372.54" r="2.3" fill="none" stroke="#e83a3a" stroke-width="0.7" stroke-opacity="0.75"/>
<circle cx="345.47" cy="381.82" r="2.3" fill="none" stroke="#e83a3a" stroke-width="0.7" stroke-opacity="0.75"/>
<circle cx="348.59" cy="405.68" r="2.3" fill="none" stroke="#e83a3a" stroke-width="0.7" stroke-opacity="0.75"/>
<circle cx="351.71" cy="427.13" r="2.3" fill="none" stroke="#e83a3a" stroke-width="0.7" stroke-opacity="0.75"/>
<circle cx="354.83" cy="387.48" r="2.3" fill="none" stroke="#e83a3a" stroke-width="0.7" stroke-opacity="0.75"/>
<circle cx="357.95" cy="431.38" r="2.3" fill="none" stroke="#e83a3a" stroke-width="0.7" stroke-opacity="0.75"/>
<circle cx="361.07" cy="401.00" r="2.3" fill="none" stroke="#e83a3a" stroke-width="0.7" stroke-opacity="0.75"/>
<circle cx="364.19" cy="392.22" r="2.3" fill="none" stroke="#e83a3a" stroke-width="0.7" stroke-opacity="0.75"/>
<circle cx="367.31" cy="319.23" r="2.3" fill="none" stroke="#e83a3a" stroke-width="0.7" stroke-opacity="0.75"/>
<circle cx="370.43" cy="411.69" r="2.3" fill="none" stroke="#e83a3a" stroke-width="0.7" stroke-opacity="0.75"/>
<circle cx="373.55" cy="421.96" r="2.3" fill="none" stroke="#e83a3a" stroke-width="0.7" stroke-opacity="0.75"/>
<circle cx="376.68" cy="397.82" r="2.3" fill="none" stroke="#e83a3a" stroke-width="0.7" stroke-opacity="0.75"/>
<circle cx="379.80" cy="393.22" r="2.3" fill="none" stroke="#e83a3a" stroke-width="0.7" stroke-opacity="0.75"/>
<circle cx="382.92" cy="422.67" r="2.3" fill="none" stroke="#e83a3a" stroke-width="0.7" stroke-opacity="0.75"/>
<circle cx="386.04" cy="345.43" r="2.3" fill="none" stroke="#e83a3a" stroke-width="0.7" stroke-opacity="0.75"/>
<circle cx="389.16" cy="438.03" r="2.3" fill="none" stroke="#e83a3a" stroke-width="0.7" stroke-opacity="0.75"/>
<circle cx="392.28" cy="371.48" r="2.3" fill="none" stroke="#e83a3a" stroke-width="0.7" stroke-opacity="0.75"/>
<circle cx="395.40" cy="364.68" r="2.3" fill="none" stroke="#e83a3a" stroke-width="0.7" stroke-opacity="0.75"/>
<circle cx="398.52" cy="395.27" r="2.3" fill="none" stroke="#e83a3a" stroke-width="0.7" stroke-opacity="0.75"/>
<circle cx="401.64" cy="383.02" r="2.3" fill="none" stroke="#e83a3a" stroke-width="0.7" stroke-opacity="0.75"/>
<circle cx="404.76" cy="354.63" r="2.3" fill="none" stroke="#e83a3a" stroke-width="0.7" stroke-opacity="0.75"/>
<circle cx="407.88" cy="383.02" r="2.3" fill="none" stroke="#e83a3a" stroke-width="0.7" stroke-opacity="0.75"/>
<circle cx="411.00" cy="359.23" r="2.3" fill="none" stroke="#e83a3a" stroke-width="0.7" stroke-opacity="0.75"/>
<circle cx="414.12" cy="401.43" r="2.3" fill="none" stroke="#e83a3a" stroke-width="0.7" stroke-opacity="0.75"/>
<circle cx="417.25" cy="439.09" r="2.3" fill="none" stroke="#e83a3a" stroke-width="0.7" stroke-opacity="0.75"/>
<circle cx="420.37" cy="413.46" r="2.3" fill="none" stroke="#e83a3a" stroke-width="0.7" stroke-opacity="0.75"/>
<circle cx="423.49" cy="436.83" r="2.3" fill="none" stroke="#e83a3a" stroke-width="0.7" stroke-opacity="0.75"/>
<circle cx="426.61" cy="293.32" r="2.3" fill="none" stroke="#e83a3a" stroke-width="0.7" stroke-opacity="0.75"/>
<circle cx="429.73" cy="431.16" r="2.3" fill="none" stroke="#e83a3a" stroke-width="0.7" stroke-opacity="0.75"/>
<circle cx="432.85" cy="429.04" r="2.3" fill="none" stroke="#e83a3a" stroke-width="0.7" stroke-opacity="0.75"/>
<circle cx="435.97" cy="425.50" r="2.3" fill="none" stroke="#e83a3a" stroke-width="0.7" stroke-opacity="0.75"/>
<circle cx="439.09" cy="417.50" r="2.3" fill="none" stroke="#e83a3a" stroke-width="0.7" stroke-opacity="0.75"/>
<circle cx="442.21" cy="417.00" r="2.3" fill="none" stroke="#e83a3a" stroke-width="0.7" stroke-opacity="0.75"/>
<circle cx="445.33" cy="381.39" r="2.3" fill="none" stroke="#e83a3a" stroke-width="0.7" stroke-opacity="0.75"/>
<circle cx="448.45" cy="375.94" r="2.3" fill="none" stroke="#e83a3a" stroke-width="0.7" stroke-opacity="0.75"/>
<circle cx="451.58" cy="379.83" r="2.3" fill="none" stroke="#e83a3a" stroke-width="0.7" stroke-opacity="0.75"/>
<circle cx="454.70" cy="392.01" r="2.3" fill="none" stroke="#e83a3a" stroke-width="0.7" stroke-opacity="0.75"/>
<circle cx="457.82" cy="377.29" r="2.3" fill="none" stroke="#e83a3a" stroke-width="0.7" stroke-opacity="0.75"/>
<circle cx="460.94" cy="423.16" r="2.3" fill="none" stroke="#e83a3a" stroke-width="0.7" stroke-opacity="0.75"/>
<circle cx="464.06" cy="299.19" r="2.3" fill="none" stroke="#e83a3a" stroke-width="0.7" stroke-opacity="0.75"/>
<circle cx="467.18" cy="417.50" r="2.3" fill="none" stroke="#e83a3a" stroke-width="0.7" stroke-opacity="0.75"/>
<circle cx="470.30" cy="439.09" r="2.3" fill="none" stroke="#e83a3a" stroke-width="0.7" stroke-opacity="0.75"/>
<circle cx="473.42" cy="419.84" r="2.3" fill="none" stroke="#e83a3a" stroke-width="0.7" stroke-opacity="0.75"/>
<circle cx="476.54" cy="392.01" r="2.3" fill="none" stroke="#e83a3a" stroke-width="0.7" stroke-opacity="0.75"/>
<circle cx="479.66" cy="321.00" r="2.3" fill="none" stroke="#e83a3a" stroke-width="0.7" stroke-opacity="0.75"/>
<circle cx="482.78" cy="440.08" r="2.3" fill="none" stroke="#e83a3a" stroke-width="0.7" stroke-opacity="0.75"/>
<circle cx="485.90" cy="403.98" r="2.3" fill="none" stroke="#e83a3a" stroke-width="0.7" stroke-opacity="0.75"/>
<circle cx="489.03" cy="361.64" r="2.3" fill="none" stroke="#e83a3a" stroke-width="0.7" stroke-opacity="0.75"/>
<circle cx="492.15" cy="438.03" r="2.3" fill="none" stroke="#e83a3a" stroke-width="0.7" stroke-opacity="0.75"/>
<circle cx="495.27" cy="361.64" r="2.3" fill="none" stroke="#e83a3a" stroke-width="0.7" stroke-opacity="0.75"/>
<circle cx="498.39" cy="406.31" r="2.3" fill="none" stroke="#e83a3a" stroke-width="0.7" stroke-opacity="0.75"/>
<circle cx="501.51" cy="316.82" r="2.3" fill="none" stroke="#e83a3a" stroke-width="0.7" stroke-opacity="0.75"/>
<circle cx="504.63" cy="417.78" r="2.3" fill="none" stroke="#e83a3a" stroke-width="0.7" stroke-opacity="0.75"/>
<circle cx="507.75" cy="426.49" r="2.3" fill="none" stroke="#e83a3a" stroke-width="0.7" stroke-opacity="0.75"/>
<circle cx="510.87" cy="419.84" r="2.3" fill="none" stroke="#e83a3a" stroke-width="0.7" stroke-opacity="0.75"/>
<circle cx="513.99" cy="344.08" r="2.3" fill="none" stroke="#e83a3a" stroke-width="0.7" stroke-opacity="0.75"/>
<circle cx="517.11" cy="399.09" r="2.3" fill="none" stroke="#e83a3a" stroke-width="0.7" stroke-opacity="0.75"/>
<circle cx="520.23" cy="398.60" r="2.3" fill="none" stroke="#e83a3a" stroke-width="0.7" stroke-opacity="0.75"/>
<circle cx="523.35" cy="396.97" r="2.3" fill="none" stroke="#e83a3a" stroke-width="0.7" stroke-opacity="0.75"/>
<circle cx="526.48" cy="438.03" r="2.3" fill="none" stroke="#e83a3a" stroke-width="0.7" stroke-opacity="0.75"/>
<circle cx="529.60" cy="352.01" r="2.3" fill="none" stroke="#e83a3a" stroke-width="0.7" stroke-opacity="0.75"/>
<circle cx="532.72" cy="423.73" r="2.3" fill="none" stroke="#e83a3a" stroke-width="0.7" stroke-opacity="0.75"/>
<circle cx="535.84" cy="394.21" r="2.3" fill="none" stroke="#e83a3a" stroke-width="0.7" stroke-opacity="0.75"/>
<circle cx="538.96" cy="370.70" r="2.3" fill="none" stroke="#e83a3a" stroke-width="0.7" stroke-opacity="0.75"/>
<circle cx="542.08" cy="412.05" r="2.3" fill="none" stroke="#e83a3a" stroke-width="0.7" stroke-opacity="0.75"/>
<circle cx="545.20" cy="335.23" r="2.3" fill="none" stroke="#e83a3a" stroke-width="0.7" stroke-opacity="0.75"/>
<polyline points="323.62,434.70 326.74,416.58 329.86,438.03 332.98,389.60 336.10,341.96 339.23,412.90 342.35,399.73 345.47,404.40 348.59,419.62 351.71,425.92 354.83,393.99 357.95,414.38 361.07,429.04 364.19,433.29 367.31,399.73 370.43,440.37 373.55,424.79 376.68,426.92 379.80,441.08 382.92,431.16 386.04,384.72 389.16,438.03 392.28,422.67 395.40,388.33 398.52,431.16 401.64,402.42 404.76,384.29 407.88,367.51 411.00,377.29 414.12,430.17 417.25,428.33 420.37,423.16 423.49,404.68 426.61,313.99 429.73,420.69 432.85,405.18 435.97,408.51 439.09,407.09 442.21,436.12 445.33,411.20 448.45,441.08 451.58,432.86 454.70,349.39 457.82,392.93 460.94,422.38 464.06,399.80 467.18,393.22 470.30,398.60 473.42,368.44 476.54,407.94 479.66,405.18 482.78,387.62 485.90,347.62 489.03,434.21 492.15,413.89 495.27,380.12 498.39,384.29 501.51,299.19 504.63,423.16 507.75,397.82 510.87,381.39 513.99,407.59 517.11,375.23 520.23,368.86 523.35,396.97 526.48,407.09 529.60,434.70 532.72,352.43 535.84,419.13 538.96,408.93 542.08,414.17 545.20,441.78" fill="none" stroke="#3a3ae8" stroke-width="0.8" stroke-opacity="0.55" stroke-linejoin="round"/>
<circle cx="323.62" cy="434.70" r="2.3" fill="none" stroke="#3a3ae8" stroke-width="0.7" stroke-opacity="0.75"/>
<circle cx="326.74" cy="416.58" r="2.3" fill="none" stroke="#3a3ae8" stroke-width="0.7" stroke-opacity="0.75"/>
<circle cx="329.86" cy="438.03" r="2.3" fill="none" stroke="#3a3ae8" stroke-width="0.7" stroke-opacity="0.75"/>
<circle cx="332.98" cy="389.60" r="2.3" fill="none" stroke="#3a3ae8" stroke-width="0.7" stroke-opacity="0.75"/>
<circle cx="336.10" cy="341.96" r="2.3" fill="none" stroke="#3a3ae8" stroke-width="0.7" stroke-opacity="0.75"/>
<circle cx="339.23" cy="412.90" r="2.3" fill="none" stroke="#3a3ae8" stroke-width="0.7" stroke-opacity="0.75"/>
<circle cx="342.35" cy="399.73" r="2.3" fill="none" stroke="#3a3ae8" stroke-width="0.7" stroke-opacity="0.75"/>
<circle cx="345.47" cy="404.40" r="2.3" fill="none" stroke="#3a3ae8" stroke-width="0.7" stroke-opacity="0.75"/>
<circle cx="348.59" cy="419.62" r="2.3" fill="none" stroke="#3a3ae8" stroke-width="0.7" stroke-opacity="0.75"/>
<circle cx="351.71" cy="425.92" r="2.3" fill="none" stroke="#3a3ae8" stroke-width="0.7" stroke-opacity="0.75"/>
<circle cx="354.83" cy="393.99" r="2.3" fill="none" stroke="#3a3ae8" stroke-width="0.7" stroke-opacity="0.75"/>
<circle cx="357.95" cy="414.38" r="2.3" fill="none" stroke="#3a3ae8" stroke-width="0.7" stroke-opacity="0.75"/>
<circle cx="361.07" cy="429.04" r="2.3" fill="none" stroke="#3a3ae8" stroke-width="0.7" stroke-opacity="0.75"/>
<circle cx="364.19" cy="433.29" r="2.3" fill="none" stroke="#3a3ae8" stroke-width="0.7" stroke-opacity="0.75"/>
<circle cx="367.31" cy="399.73" r="2.3" fill="none" stroke="#3a3ae8" stroke-width="0.7" stroke-opacity="0.75"/>
<circle cx="370.43" cy="440.37" r="2.3" fill="none" stroke="#3a3ae8" stroke-width="0.7" stroke-opacity="0.75"/>
<circle cx="373.55" cy="424.79" r="2.3" fill="none" stroke="#3a3ae8" stroke-width="0.7" stroke-opacity="0.75"/>
<circle cx="376.68" cy="426.92" r="2.3" fill="none" stroke="#3a3ae8" stroke-width="0.7" stroke-opacity="0.75"/>
<circle cx="379.80" cy="441.08" r="2.3" fill="none" stroke="#3a3ae8" stroke-width="0.7" stroke-opacity="0.75"/>
<circle cx="382.92" cy="431.16" r="2.3" fill="none" stroke="#3a3ae8" stroke-width="0.7" stroke-opacity="0.75"/>
<circle cx="386.04" cy="384.72" r="2.3" fill="none" stroke="#3a3ae8" stroke-width="0.7" stroke-opacity="0.75"/>
<circle cx="389.16" cy="438.03" r="2.3" fill="none" stroke="#3a3ae8" stroke-width="0.7" stroke-opacity="0.75"/>
<circle cx="392.28" cy="422.67" r="2.3" fill="none" stroke="#3a3ae8" stroke-width="0.7" stroke-opacity="0.75"/>
<circle cx="395.40" cy="388.33" r="2.3" fill="none" stroke="#3a3ae8" stroke-width="0.7" stroke-opacity="0.75"/>
<circle cx="398.52" cy="431.16" r="2.3" fill="none" stroke="#3a3ae8" stroke-width="0.7" stroke-opacity="0.75"/>
<circle cx="401.64" cy="402.42" r="2.3" fill="none" stroke="#3a3ae8" stroke-width="0.7" stroke-opacity="0.75"/>
<circle cx="404.76" cy="384.29" r="2.3" fill="none" stroke="#3a3ae8" stroke-width="0.7" stroke-opacity="0.75"/>
<circle cx="407.88" cy="367.51" r="2.3" fill="none" stroke="#3a3ae8" stroke-width="0.7" stroke-opacity="0.75"/>
<circle cx="411.00" cy="377.29" r="2.3" fill="none" stroke="#3a3ae8" stroke-width="0.7" stroke-opacity="0.75"/>
<circle cx="414.12" cy="430.17" r="2.3" fill="none" stroke="#3a3ae8" stroke-width="0.7" stroke-opacity="0.75"/>
<circle cx="417.25" cy="428.33" r="2.3" fill="none" stroke="#3a3ae8" stroke-width="0.7" stroke-opacity="0.75"/>
<circle cx="420.37" cy="423.16" r="2.3" fill="none" stroke="#3a3ae8" stroke-width="0.7" stroke-opacity="0.75"/>
<circle cx="423.49" cy="404.68" r="2.3" fill="none" stroke="#3a3ae8" stroke-width="0.7" stroke-opacity="0.75"/>
<circle cx="426.61" cy="313.99" r="2.3" fill="none" stroke="#3a3ae8" stroke-width="0.7" stroke-opacity="0.75"/>
<circle cx="429.73" cy="420.69" r="2.3" fill="none" stroke="#3a3ae8" stroke-width="0.7" stroke-opacity="0.75"/>
<circle cx="432.85" cy="405.18" r="2.3" fill="none" stroke="#3a3ae8" stroke-width="0.7" stroke-opacity="0.75"/>
<circle cx="435.97" cy="408.51" r="2.3" fill="none" stroke="#3a3ae8" stroke-width="0.7" stroke-opacity="0.75"/>
<circle cx="439.09" cy="407.09" r="2.3" fill="none" stroke="#3a3ae8" stroke-width="0.7" stroke-opacity="0.75"/>
<circle cx="442.21" cy="436.12" r="2.3" fill="none" stroke="#3a3ae8" stroke-width="0.7" stroke-opacity="0.75"/>
<circle cx="445.33" cy="411.20" r="2.3" fill="none" stroke="#3a3ae8" stroke-width="0.7" stroke-opacity="0.75"/>
<circle cx="448.45" cy="441.08" r="2.3" fill="none" stroke="#3a3ae8" stroke-width="0.7" stroke-opacity="0.75"/>
<circle cx="451.58" cy="432.86" r="2.3" fill="none" stroke="#3a3ae8" stroke-width="0.7" stroke-opacity="0.75"/>
<circle cx="454.70" cy="349.39" r="2.3" fill="none" stroke="#3a3ae8" stroke-width="0.7" stroke-opacity="0.75"/>
<circle cx="457.82" cy="392.93" r="2.3" fill="none" stroke="#3a3ae8" stroke-width="0.7" stroke-opacity="0.75"/>
<circle cx="460.94" cy="422.38" r="2.3" fill="none" stroke="#3a3ae8" stroke-width="0.7" stroke-opacity="0.75"/>
<circle cx="464.06" cy="399.80" r="2.3" fill="none" stroke="#3a3ae8" stroke-width="0.7" stroke-opacity="0.75"/>
<circle cx="467.18" cy="393.22" r="2.3" fill="none" stroke="#3a3ae8" stroke-width="0.7" stroke-opacity="0.75"/>
<circle cx="470.30" cy="398.60" r="2.3" fill="none" stroke="#3a3ae8" stroke-width="0.7" stroke-opacity="0.75"/>
<circle cx="473.42" cy="368.44" r="2.3" fill="none" stroke="#3a3ae8" stroke-width="0.7" stroke-opacity="0.75"/>
<circle cx="476.54" cy="407.94" r="2.3" fill="none" stroke="#3a3ae8" stroke-width="0.7" stroke-opacity="0.75"/>
<circle cx="479.66" cy="405.18" r="2.3" fill="none" stroke="#3a3ae8" stroke-width="0.7" stroke-opacity="0.75"/>
<circle cx="482.78" cy="387.62" r="2.3" fill="none" stroke="#3a3ae8" stroke-width="0.7" stroke-opacity="0.75"/>
<circle cx="485.90" cy="347.62" r="2.3" fill="none" stroke="#3a3ae8" stroke-width="0.7" stroke-opacity="0.75"/>
<circle cx="489.03" cy="434.21" r="2.3" fill="none" stroke="#3a3ae8" stroke-width="0.7" stroke-opacity="0.75"/>
<circle cx="492.15" cy="413.89" r="2.3" fill="none" stroke="#3a3ae8" stroke-width="0.7" stroke-opacity="0.75"/>
<circle cx="495.27" cy="380.12" r="2.3" fill="none" stroke="#3a3ae8" stroke-width="0.7" stroke-opacity="0.75"/>
<circle cx="498.39" cy="384.29" r="2.3" fill="none" stroke="#3a3ae8" stroke-width="0.7" stroke-opacity="0.75"/>
<circle cx="501.51" cy="299.19" r="2.3" fill="none" stroke="#3a3ae8" stroke-width="0.7" stroke-opacity="0.75"/>
<circle cx="504.63" cy="423.16" r="2.3" fill="none" stroke="#3a3ae8" stroke-width="0.7" stroke-opacity="0.75"/>
<circle cx="507.75" cy="397.82" r="2.3" fill="none" stroke="#3a3ae8" stroke-width="0.7" stroke-opacity="0.75"/>
<circle cx="510.87" cy="381.39" r="2.3" fill="none" stroke="#3a3ae8" stroke-width="0.7" stroke-opacity="0.75"/>
<circle cx="513.99" cy="407.59" r="2.3" fill="none" stroke="#3a3ae8" stroke-width="0.7" stroke-opacity="0.75"/>
<circle cx="517.11" cy="375.23" r="2.3" fill="none" stroke="#3a3ae8" stroke-width="0.7" stroke-opacity="0.75"/>
<circle cx="520.23" cy="368.86" r="2.3" fill="none" stroke="#3a3ae8" stroke-width="0.7" stroke-opacity="0.75"/>
<circle cx="523.35" cy="396.97" r="2.3" fill="none" stroke="#3a3ae8" stroke-width="0.7" stroke-opacity="0.75"/>
<circle cx="526.48" cy="407.09" r="2.3" fill="none" stroke="#3a3ae8" stroke-width="0.7" stroke-opacity="0.75"/>
<circle cx="529.60" cy="434.70" r="2.3" fill="none" stroke="#3a3ae8" stroke-width="0.7" stroke-opacity="0.75"/>
<circle cx="532.72" cy="352.43" r="2.3" fill="none" stroke="#3a3ae8" stroke-width="0.7" stroke-opacity="0.75"/>
<circle cx="535.84" cy="419.13" r="2.3" fill="none" stroke="#3a3ae8" stroke-width="0.7" stroke-opacity="0.75"/>
<circle cx="538.96" cy="408.93" r="2.3" fill="none" stroke="#3a3ae8" stroke-width="0.7" stroke-opacity="0.75"/>
<circle cx="542.08" cy="414.17" r="2.3" fill="none" stroke="#3a3ae8" stroke-width="0.7" stroke-opacity="0.75"/>
<circle cx="545.20" cy="441.78" r="2.3" fill="none" stroke="#3a3ae8" stroke-width="0.7" stroke-opacity="0.75"/>
<polyline points="323.62,435.20 326.74,433.93 329.86,435.20 332.98,438.81 336.10,441.22 339.23,438.03 342.35,441.78 345.47,441.08 348.59,441.78 351.71,434.00 354.83,429.04 357.95,431.38 361.07,425.29 364.19,441.08 367.31,440.37 370.43,431.16 373.55,435.20 376.68,435.20 379.80,434.70 382.92,423.16 386.04,430.46 389.16,429.75 392.28,422.67 395.40,430.60 398.52,432.23 401.64,436.12 404.76,441.78 407.88,441.78 411.00,399.37 414.12,414.17 417.25,429.04 420.37,418.28 423.49,431.16 426.61,417.00 429.73,441.78 432.85,431.87 435.97,409.43 439.09,431.16 442.21,434.00 445.33,418.42 448.45,429.04 451.58,440.01 454.70,377.29 457.82,404.33 460.94,417.50 464.06,375.73 467.18,417.00 470.30,431.16 473.42,417.50 476.54,420.69 479.66,421.61 482.78,421.61 485.90,436.12 489.03,430.60 492.15,441.08 495.27,432.23 498.39,431.87 501.51,400.22 504.63,396.97 507.75,398.60 510.87,406.03 513.99,404.26 517.11,427.34 520.23,394.21 523.35,395.06 526.48,407.09 529.60,385.00 532.72,397.89 535.84,414.17 538.96,440.37 542.08,440.37 545.20,440.72" fill="none" stroke="#3ae83a" stroke-width="0.8" stroke-opacity="0.55" stroke-linejoin="round"/>
<circle cx="323.62" cy="435.20" r="2.3" fill="none" stroke="#3ae83a" stroke-width="0.7" stroke-opacity="0.75"/>
<circle cx="326.74" cy="433.93" r="2.3" fill="none" stroke="#3ae83a" stroke-width="0.7" stroke-opacity="0.75"/>
<circle cx="329.86" cy="435.20" r="2.3" fill="none" stroke="#3ae83a" stroke-width="0.7" stroke-opacity="0.75"/>
<circle cx="332.98" cy="438.81" r="2.3" fill="none" stroke="#3ae83a" stroke-width="0.7" stroke-opacity="0.75"/>
<circle cx="336.10" cy="441.22" r="2.3" fill="none" stroke="#3ae83a" stroke-width="0.7" stroke-opacity="0.75"/>
<circle cx="339.23" cy="438.03" r="2.3" fill="none" stroke="#3ae83a" stroke-width="0.7" stroke-opacity="0.75"/>
<circle cx="342.35" cy="441.78" r="2.3" fill="none" stroke="#3ae83a" stroke-width="0.7" stroke-opacity="0.75"/>
<circle cx="345.47" cy="441.08" r="2.3" fill="none" stroke="#3ae83a" stroke-width="0.7" stroke-opacity="0.75"/>
<circle cx="348.59" cy="441.78" r="2.3" fill="none" stroke="#3ae83a" stroke-width="0.7" stroke-opacity="0.75"/>
<circle cx="351.71" cy="434.00" r="2.3" fill="none" stroke="#3ae83a" stroke-width="0.7" stroke-opacity="0.75"/>
<circle cx="354.83" cy="429.04" r="2.3" fill="none" stroke="#3ae83a" stroke-width="0.7" stroke-opacity="0.75"/>
<circle cx="357.95" cy="431.38" r="2.3" fill="none" stroke="#3ae83a" stroke-width="0.7" stroke-opacity="0.75"/>
<circle cx="361.07" cy="425.29" r="2.3" fill="none" stroke="#3ae83a" stroke-width="0.7" stroke-opacity="0.75"/>
<circle cx="364.19" cy="441.08" r="2.3" fill="none" stroke="#3ae83a" stroke-width="0.7" stroke-opacity="0.75"/>
<circle cx="367.31" cy="440.37" r="2.3" fill="none" stroke="#3ae83a" stroke-width="0.7" stroke-opacity="0.75"/>
<circle cx="370.43" cy="431.16" r="2.3" fill="none" stroke="#3ae83a" stroke-width="0.7" stroke-opacity="0.75"/>
<circle cx="373.55" cy="435.20" r="2.3" fill="none" stroke="#3ae83a" stroke-width="0.7" stroke-opacity="0.75"/>
<circle cx="376.68" cy="435.20" r="2.3" fill="none" stroke="#3ae83a" stroke-width="0.7" stroke-opacity="0.75"/>
<circle cx="379.80" cy="434.70" r="2.3" fill="none" stroke="#3ae83a" stroke-width="0.7" stroke-opacity="0.75"/>
<circle cx="382.92" cy="423.16" r="2.3" fill="none" stroke="#3ae83a" stroke-width="0.7" stroke-opacity="0.75"/>
<circle cx="386.04" cy="430.46" r="2.3" fill="none" stroke="#3ae83a" stroke-width="0.7" stroke-opacity="0.75"/>
<circle cx="389.16" cy="429.75" r="2.3" fill="none" stroke="#3ae83a" stroke-width="0.7" stroke-opacity="0.75"/>
<circle cx="392.28" cy="422.67" r="2.3" fill="none" stroke="#3ae83a" stroke-width="0.7" stroke-opacity="0.75"/>
<circle cx="395.40" cy="430.60" r="2.3" fill="none" stroke="#3ae83a" stroke-width="0.7" stroke-opacity="0.75"/>
<circle cx="398.52" cy="432.23" r="2.3" fill="none" stroke="#3ae83a" stroke-width="0.7" stroke-opacity="0.75"/>
<circle cx="401.64" cy="436.12" r="2.3" fill="none" stroke="#3ae83a" stroke-width="0.7" stroke-opacity="0.75"/>
<circle cx="404.76" cy="441.78" r="2.3" fill="none" stroke="#3ae83a" stroke-width="0.7" stroke-opacity="0.75"/>
<circle cx="407.88" cy="441.78" r="2.3" fill="none" stroke="#3ae83a" stroke-width="0.7" stroke-opacity="0.75"/>
<circle cx="411.00" cy="399.37" r="2.3" fill="none" stroke="#3ae83a" stroke-width="0.7" stroke-opacity="0.75"/>
<circle cx="414.12" cy="414.17" r="2.3" fill="none" stroke="#3ae83a" stroke-width="0.7" stroke-opacity="0.75"/>
<circle cx="417.25" cy="429.04" r="2.3" fill="none" stroke="#3ae83a" stroke-width="0.7" stroke-opacity="0.75"/>
<circle cx="420.37" cy="418.28" r="2.3" fill="none" stroke="#3ae83a" stroke-width="0.7" stroke-opacity="0.75"/>
<circle cx="423.49" cy="431.16" r="2.3" fill="none" stroke="#3ae83a" stroke-width="0.7" stroke-opacity="0.75"/>
<circle cx="426.61" cy="417.00" r="2.3" fill="none" stroke="#3ae83a" stroke-width="0.7" stroke-opacity="0.75"/>
<circle cx="429.73" cy="441.78" r="2.3" fill="none" stroke="#3ae83a" stroke-width="0.7" stroke-opacity="0.75"/>
<circle cx="432.85" cy="431.87" r="2.3" fill="none" stroke="#3ae83a" stroke-width="0.7" stroke-opacity="0.75"/>
<circle cx="435.97" cy="409.43" r="2.3" fill="none" stroke="#3ae83a" stroke-width="0.7" stroke-opacity="0.75"/>
<circle cx="439.09" cy="431.16" r="2.3" fill="none" stroke="#3ae83a" stroke-width="0.7" stroke-opacity="0.75"/>
<circle cx="442.21" cy="434.00" r="2.3" fill="none" stroke="#3ae83a" stroke-width="0.7" stroke-opacity="0.75"/>
<circle cx="445.33" cy="418.42" r="2.3" fill="none" stroke="#3ae83a" stroke-width="0.7" stroke-opacity="0.75"/>
<circle cx="448.45" cy="429.04" r="2.3" fill="none" stroke="#3ae83a" stroke-width="0.7" stroke-opacity="0.75"/>
<circle cx="451.58" cy="440.01" r="2.3" fill="none" stroke="#3ae83a" stroke-width="0.7" stroke-opacity="0.75"/>
<circle cx="454.70" cy="377.29" r="2.3" fill="none" stroke="#3ae83a" stroke-width="0.7" stroke-opacity="0.75"/>
<circle cx="457.82" cy="404.33" r="2.3" fill="none" stroke="#3ae83a" stroke-width="0.7" stroke-opacity="0.75"/>
<circle cx="460.94" cy="417.50" r="2.3" fill="none" stroke="#3ae83a" stroke-width="0.7" stroke-opacity="0.75"/>
<circle cx="464.06" cy="375.73" r="2.3" fill="none" stroke="#3ae83a" stroke-width="0.7" stroke-opacity="0.75"/>
<circle cx="467.18" cy="417.00" r="2.3" fill="none" stroke="#3ae83a" stroke-width="0.7" stroke-opacity="0.75"/>
<circle cx="470.30" cy="431.16" r="2.3" fill="none" stroke="#3ae83a" stroke-width="0.7" stroke-opacity="0.75"/>
<circle cx="473.42" cy="417.50" r="2.3" fill="none" stroke="#3ae83a" stroke-width="0.7" stroke-opacity="0.75"/>
<circle cx="476.54" cy="420.69" r="2.3" fill="none" stroke="#3ae83a" stroke-width="0.7" stroke-opacity="0.75"/>
<circle cx="479.66" cy="421.61" r="2.3" fill="none" stroke="#3ae83a" stroke-width="0.7" stroke-opacity="0.75"/>
<circle cx="482.78" cy="421.61" r="2.3" fill="none" stroke="#3ae83a" stroke-width="0.7" stroke-opacity="0.75"/>
<circle cx="485.90" cy="436.12" r="2.3" fill="none" stroke="#3ae83a" stroke-width="0.7" stroke-opacity="0.75"/>
<circle cx="489.03" cy="430.60" r="2.3" fill="none" stroke="#3ae83a" stroke-width="0.7" stroke-opacity="0.75"/>
<circle cx="492.15" cy="441.08" r="2.3" fill="none" stroke="#3ae83a" stroke-width="0.7" stroke-opacity="0.75"/>
<circle cx="495.27" cy="432.23" r="2.3" fill="none" stroke="#3ae83a" stroke-width="0.7" stroke-opacity="0.75"/>
<circle cx="498.39" cy="431.87" r="2.3" fill="none" stroke="#3ae83a" stroke-width="0.7" stroke-opacity="0.75"/>
<circle cx="501.51" cy="400.22" r="2.3" fill="none" stroke="#3ae83a" stroke-width="0.7" stroke-opacity="0.75"/>
<circle cx="504.63" cy="396.97" r="2.3" fill="none" stroke="#3ae83a" stroke-width="0.7" stroke-opacity="0.75"/>
<circle cx="507.75" cy="398.60" r="2.3" fill="none" stroke="#3ae83a" stroke-width="0.7" stroke-opacity="0.75"/>
<circle cx="510.87" cy="406.03" r="2.3" fill="none" stroke="#3ae83a" stroke-width="0.7" stroke-opacity="0.75"/>
<circle cx="513.99" cy="404.26" r="2.3" fill="none" stroke="#3ae83a" stroke-width="0.7" stroke-opacity="0.75"/>
<circle cx="517.11" cy="427.34" r="2.3" fill="none" stroke="#3ae83a" stroke-width="0.7" stroke-opacity="0.75"/>
<circle cx="520.23" cy="394.21" r="2.3" fill="none" stroke="#3ae83a" stroke-width="0.7" stroke-opacity="0.75"/>
<circle cx="523.35" cy="395.06" r="2.3" fill="none" stroke="#3ae83a" stroke-width="0.7" stroke-opacity="0.75"/>
<circle cx="526.48" cy="407.09" r="2.3" fill="none" stroke="#3ae83a" stroke-width="0.7" stroke-opacity="0.75"/>
<circle cx="529.60" cy="385.00" r="2.3" fill="none" stroke="#3ae83a" stroke-width="0.7" stroke-opacity="0.75"/>
<circle cx="532.72" cy="397.89" r="2.3" fill="none" stroke="#3ae83a" stroke-width="0.7" stroke-opacity="0.75"/>
<circle cx="535.84" cy="414.17" r="2.3" fill="none" stroke="#3ae83a" stroke-width="0.7" stroke-opacity="0.75"/>
<circle cx="538.96" cy="440.37" r="2.3" fill="none" stroke="#3ae83a" stroke-width="0.7" stroke-opacity="0.75"/>
<circle cx="542.08" cy="440.37" r="2.3" fill="none" stroke="#3ae83a" stroke-width="0.7" stroke-opacity="0.75"/>
<circle cx="545.20" cy="440.72" r="2.3" fill="none" stroke="#3ae83a" stroke-width="0.7" stroke-opacity="0.75"/>
<rect x="320.50" y="266.20" width="224.70" height="177.00" fill="none" stroke="#b4b4b4" stroke-width="1"/>
<line x1="320.50" y1="443.2" x2="320.50" y2="441.2" stroke="#b4b4b4" stroke-width="0.8"/>
<line x1="320.50" y1="266.2" x2="320.50" y2="268.2" stroke="#b4b4b4" stroke-width="0.8"/>
<text transform="translate(320.50,452.80) scale(0.92,1)" text-anchor="middle">0</text>
<line x1="351.71" y1="443.2" x2="351.71" y2="441.2" stroke="#b4b4b4" stroke-width="0.8"/>
<line x1="351.71" y1="266.2" x2="351.71" y2="268.2" stroke="#b4b4b4" stroke-width="0.8"/>
<text transform="translate(351.71,452.80) scale(0.92,1)" text-anchor="middle">10</text>
<line x1="382.92" y1="443.2" x2="382.92" y2="441.2" stroke="#b4b4b4" stroke-width="0.8"/>
<line x1="382.92" y1="266.2" x2="382.92" y2="268.2" stroke="#b4b4b4" stroke-width="0.8"/>
<text transform="translate(382.92,452.80) scale(0.92,1)" text-anchor="middle">20</text>
<line x1="414.12" y1="443.2" x2="414.12" y2="441.2" stroke="#b4b4b4" stroke-width="0.8"/>
<line x1="414.12" y1="266.2" x2="414.12" y2="268.2" stroke="#b4b4b4" stroke-width="0.8"/>
<text transform="translate(414.12,452.80) scale(0.92,1)" text-anchor="middle">30</text>
<line x1="445.33" y1="443.2" x2="445.33" y2="441.2" stroke="#b4b4b4" stroke-width="0.8"/>
<line x1="445.33" y1="266.2" x2="445.33" y2="268.2" stroke="#b4b4b4" stroke-width="0.8"/>
<text transform="translate(445.33,452.80) scale(0.92,1)" text-anchor="middle">40</text>
<line x1="476.54" y1="443.2" x2="476.54" y2="441.2" stroke="#b4b4b4" stroke-width="0.8"/>
<line x1="476.54" y1="266.2" x2="476.54" y2="268.2" stroke="#b4b4b4" stroke-width="0.8"/>
<text transform="translate(476.54,452.80) scale(0.92,1)" text-anchor="middle">50</text>
<line x1="507.75" y1="443.2" x2="507.75" y2="441.2" stroke="#b4b4b4" stroke-width="0.8"/>
<line x1="507.75" y1="266.2" x2="507.75" y2="268.2" stroke="#b4b4b4" stroke-width="0.8"/>
<text transform="translate(507.75,452.80) scale(0.92,1)" text-anchor="middle">60</text>
<line x1="538.96" y1="443.2" x2="538.96" y2="441.2" stroke="#b4b4b4" stroke-width="0.8"/>
<line x1="538.96" y1="266.2" x2="538.96" y2="268.2" stroke="#b4b4b4" stroke-width="0.8"/>
<text transform="translate(538.96,452.80) scale(0.92,1)" text-anchor="middle">70</text>
<line x1="320.5" y1="443.20" x2="322.5" y2="443.20" stroke="#b4b4b4" stroke-width="0.8"/>
<line x1="545.2" y1="443.20" x2="543.2" y2="443.20" stroke="#b4b4b4" stroke-width="0.8"/>
<text transform="translate(318.30,446.30) scale(0.92,1)" text-anchor="end">0</text>
<line x1="320.5" y1="407.80" x2="322.5" y2="407.80" stroke="#b4b4b4" stroke-width="0.8"/>
<line x1="545.2" y1="407.80" x2="543.2" y2="407.80" stroke="#b4b4b4" stroke-width="0.8"/>
<text transform="translate(318.30,410.90) scale(0.92,1)" text-anchor="end">0.5</text>
<line x1="320.5" y1="372.40" x2="322.5" y2="372.40" stroke="#b4b4b4" stroke-width="0.8"/>
<line x1="545.2" y1="372.40" x2="543.2" y2="372.40" stroke="#b4b4b4" stroke-width="0.8"/>
<text transform="translate(318.30,375.50) scale(0.92,1)" text-anchor="end">1</text>
<line x1="320.5" y1="337.00" x2="322.5" y2="337.00" stroke="#b4b4b4" stroke-width="0.8"/>
<line x1="545.2" y1="337.00" x2="543.2" y2="337.00" stroke="#b4b4b4" stroke-width="0.8"/>
<text transform="translate(318.30,340.10) scale(0.92,1)" text-anchor="end">1.5</text>
<line x1="320.5" y1="301.60" x2="322.5" y2="301.60" stroke="#b4b4b4" stroke-width="0.8"/>
<line x1="545.2" y1="301.60" x2="543.2" y2="301.60" stroke="#b4b4b4" stroke-width="0.8"/>
<text transform="translate(318.30,304.70) scale(0.92,1)" text-anchor="end">2</text>
<line x1="320.5" y1="266.20" x2="322.5" y2="266.20" stroke="#b4b4b4" stroke-width="0.8"/>
<line x1="545.2" y1="266.20" x2="543.2" y2="266.20" stroke="#b4b4b4" stroke-width="0.8"/>
<text transform="translate(318.30,269.30) scale(0.92,1)" text-anchor="end">2.5</text>
<text x="432.85" y="463" text-anchor="middle" font-size="7.7">Group No.</text>
<text transform="translate(302.1,345.3) rotate(-90)" text-anchor="middle" font-size="7.5">Ra Error(<tspan dx="1.3" font-size="8.2">μ</tspan><tspan dx="1.1">m)</tspan></text>
<text x="437" y="483.5" text-anchor="middle" font-family="Liberation Serif, serif" font-weight="bold" font-size="13" fill="#111"><tspan font-size="11">(</tspan>d<tspan font-size="11">)</tspan></text>
<rect x="495.5" y="269.3" width="48.10" height="25.70" fill="#fff" stroke="#b4b4b4" stroke-width="0.9"/>
<line x1="497.8" y1="274.4" x2="518.2" y2="274.4" stroke="#e83a3a" stroke-width="0.8" stroke-opacity="0.75"/>
<circle cx="508.00" cy="274.4" r="2.3" fill="none" stroke="#e83a3a" stroke-width="0.7" stroke-opacity="0.75"/>
<text x="519.7" y="276.7" font-size="6.3">BP</text>
<line x1="497.8" y1="282.7" x2="518.2" y2="282.7" stroke="#3a3ae8" stroke-width="0.8" stroke-opacity="0.75"/>
<circle cx="508.00" cy="282.7" r="2.3" fill="none" stroke="#3a3ae8" stroke-width="0.7" stroke-opacity="0.75"/>
<text x="519.7" y="285.0" font-size="6.3">RBF</text>
<line x1="497.8" y1="290.5" x2="518.2" y2="290.5" stroke="#3ae83a" stroke-width="0.8" stroke-opacity="0.75"/>
<circle cx="508.00" cy="290.5" r="2.3" fill="none" stroke="#3ae83a" stroke-width="0.7" stroke-opacity="0.75"/>
<text x="519.7" y="292.8" font-size="6.3">ELMPS</text></g>
</svg>
</body></html>
